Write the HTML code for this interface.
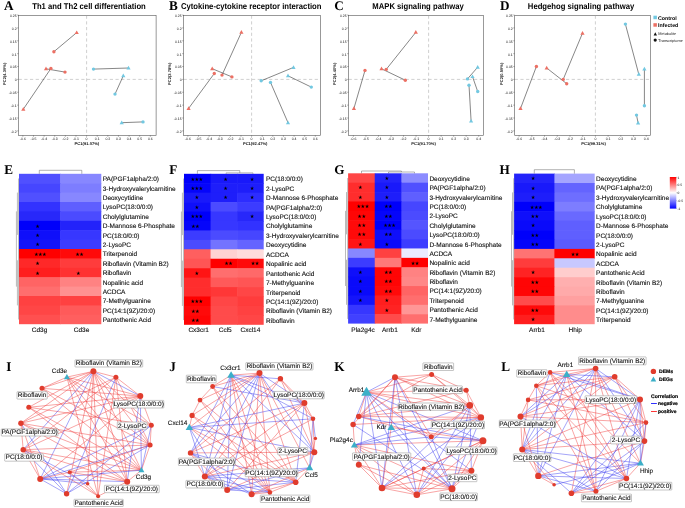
<!DOCTYPE html>
<html><head><meta charset="utf-8"><title>Figure</title>
<style>html,body{margin:0;padding:0;background:#fff;}svg{display:block;}</style></head>
<body><svg width="685" height="508" viewBox="0 0 685 508" text-rendering="geometricPrecision">
<rect width="685" height="508" fill="#fff"/>
<text x="3.90" y="9.60" font-size="13.2" font-family="Liberation Serif, Times New Roman, serif" text-anchor="start" font-weight="bold" fill="#000" >A</text>
<text transform="translate(89,8.75) scale(1,1.1)" font-size="7.7" font-family="Liberation Sans, Arial, sans-serif" font-weight="bold" text-anchor="middle" fill="#000">Th1 and Th2 cell differentiation</text>
<rect x="18.6" y="15.6" width="137.50" height="119.70" fill="none" stroke="#555" stroke-width="0.6"/>
<line x1="18.6" y1="79.4" x2="156.1" y2="79.4" stroke="#a0a0a0" stroke-width="0.5" stroke-dasharray="3.2,2.5"/>
<line x1="86.6" y1="15.6" x2="86.6" y2="135.3" stroke="#a0a0a0" stroke-width="0.5" stroke-dasharray="3.2,2.5"/>
<line x1="17.1" y1="15.05" x2="18.6" y2="15.05" stroke="#444" stroke-width="0.4"/>
<text x="16.70" y="16.95" font-size="3.5" font-family="Liberation Sans, Arial, sans-serif" text-anchor="end" fill="#111" >0.25</text>
<line x1="17.1" y1="27.92" x2="18.6" y2="27.92" stroke="#444" stroke-width="0.4"/>
<text x="16.70" y="29.82" font-size="3.5" font-family="Liberation Sans, Arial, sans-serif" text-anchor="end" fill="#111" >0.2</text>
<line x1="17.1" y1="40.79" x2="18.6" y2="40.79" stroke="#444" stroke-width="0.4"/>
<text x="16.70" y="42.69" font-size="3.5" font-family="Liberation Sans, Arial, sans-serif" text-anchor="end" fill="#111" >0.15</text>
<line x1="17.1" y1="53.66" x2="18.6" y2="53.66" stroke="#444" stroke-width="0.4"/>
<text x="16.70" y="55.56" font-size="3.5" font-family="Liberation Sans, Arial, sans-serif" text-anchor="end" fill="#111" >0.1</text>
<line x1="17.1" y1="66.53" x2="18.6" y2="66.53" stroke="#444" stroke-width="0.4"/>
<text x="16.70" y="68.43" font-size="3.5" font-family="Liberation Sans, Arial, sans-serif" text-anchor="end" fill="#111" >0.05</text>
<line x1="17.1" y1="79.40" x2="18.6" y2="79.40" stroke="#444" stroke-width="0.4"/>
<text x="16.70" y="81.30" font-size="3.5" font-family="Liberation Sans, Arial, sans-serif" text-anchor="end" fill="#111" >0</text>
<line x1="17.1" y1="92.27" x2="18.6" y2="92.27" stroke="#444" stroke-width="0.4"/>
<text x="16.70" y="94.17" font-size="3.5" font-family="Liberation Sans, Arial, sans-serif" text-anchor="end" fill="#111" >-0.05</text>
<line x1="17.1" y1="105.14" x2="18.6" y2="105.14" stroke="#444" stroke-width="0.4"/>
<text x="16.70" y="107.04" font-size="3.5" font-family="Liberation Sans, Arial, sans-serif" text-anchor="end" fill="#111" >-0.1</text>
<line x1="17.1" y1="118.01" x2="18.6" y2="118.01" stroke="#444" stroke-width="0.4"/>
<text x="16.70" y="119.91" font-size="3.5" font-family="Liberation Sans, Arial, sans-serif" text-anchor="end" fill="#111" >-0.15</text>
<line x1="17.1" y1="130.88" x2="18.6" y2="130.88" stroke="#444" stroke-width="0.4"/>
<text x="16.70" y="132.78" font-size="3.5" font-family="Liberation Sans, Arial, sans-serif" text-anchor="end" fill="#111" >-0.2</text>
<line x1="22.88" y1="135.3" x2="22.88" y2="136.8" stroke="#444" stroke-width="0.4"/>
<text x="22.88" y="140.20" font-size="3.5" font-family="Liberation Sans, Arial, sans-serif" text-anchor="middle" fill="#111" >-0.6</text>
<line x1="33.50" y1="135.3" x2="33.50" y2="136.8" stroke="#444" stroke-width="0.4"/>
<text x="33.50" y="140.20" font-size="3.5" font-family="Liberation Sans, Arial, sans-serif" text-anchor="middle" fill="#111" >-0.5</text>
<line x1="44.12" y1="135.3" x2="44.12" y2="136.8" stroke="#444" stroke-width="0.4"/>
<text x="44.12" y="140.20" font-size="3.5" font-family="Liberation Sans, Arial, sans-serif" text-anchor="middle" fill="#111" >-0.4</text>
<line x1="54.74" y1="135.3" x2="54.74" y2="136.8" stroke="#444" stroke-width="0.4"/>
<text x="54.74" y="140.20" font-size="3.5" font-family="Liberation Sans, Arial, sans-serif" text-anchor="middle" fill="#111" >-0.3</text>
<line x1="65.36" y1="135.3" x2="65.36" y2="136.8" stroke="#444" stroke-width="0.4"/>
<text x="65.36" y="140.20" font-size="3.5" font-family="Liberation Sans, Arial, sans-serif" text-anchor="middle" fill="#111" >-0.2</text>
<line x1="75.98" y1="135.3" x2="75.98" y2="136.8" stroke="#444" stroke-width="0.4"/>
<text x="75.98" y="140.20" font-size="3.5" font-family="Liberation Sans, Arial, sans-serif" text-anchor="middle" fill="#111" >-0.1</text>
<line x1="86.60" y1="135.3" x2="86.60" y2="136.8" stroke="#444" stroke-width="0.4"/>
<text x="86.60" y="140.20" font-size="3.5" font-family="Liberation Sans, Arial, sans-serif" text-anchor="middle" fill="#111" >0</text>
<line x1="97.22" y1="135.3" x2="97.22" y2="136.8" stroke="#444" stroke-width="0.4"/>
<text x="97.22" y="140.20" font-size="3.5" font-family="Liberation Sans, Arial, sans-serif" text-anchor="middle" fill="#111" >0.1</text>
<line x1="107.84" y1="135.3" x2="107.84" y2="136.8" stroke="#444" stroke-width="0.4"/>
<text x="107.84" y="140.20" font-size="3.5" font-family="Liberation Sans, Arial, sans-serif" text-anchor="middle" fill="#111" >0.2</text>
<line x1="118.46" y1="135.3" x2="118.46" y2="136.8" stroke="#444" stroke-width="0.4"/>
<text x="118.46" y="140.20" font-size="3.5" font-family="Liberation Sans, Arial, sans-serif" text-anchor="middle" fill="#111" >0.3</text>
<line x1="129.08" y1="135.3" x2="129.08" y2="136.8" stroke="#444" stroke-width="0.4"/>
<text x="129.08" y="140.20" font-size="3.5" font-family="Liberation Sans, Arial, sans-serif" text-anchor="middle" fill="#111" >0.4</text>
<line x1="139.70" y1="135.3" x2="139.70" y2="136.8" stroke="#444" stroke-width="0.4"/>
<text x="139.70" y="140.20" font-size="3.5" font-family="Liberation Sans, Arial, sans-serif" text-anchor="middle" fill="#111" >0.5</text>
<line x1="150.32" y1="135.3" x2="150.32" y2="136.8" stroke="#444" stroke-width="0.4"/>
<text x="150.32" y="140.20" font-size="3.5" font-family="Liberation Sans, Arial, sans-serif" text-anchor="middle" fill="#111" >0.6</text>
<text x="86.90" y="144.80" font-size="4.1" font-family="Liberation Sans, Arial, sans-serif" text-anchor="middle" font-weight="bold" fill="#111" >PC1(91.07%)</text>
<text transform="translate(6.0,73.9) rotate(-90)" font-size="4.1" font-family="Liberation Sans, Arial, sans-serif" font-weight="bold" text-anchor="middle" fill="#222">PC2(4.39%)</text>
<line x1="76.7" y1="32.6" x2="53.9" y2="51.7" stroke="#222" stroke-width="0.55"/>
<line x1="46" y1="68.8" x2="65" y2="72.1" stroke="#222" stroke-width="0.55"/>
<line x1="23.3" y1="109.2" x2="50.9" y2="68.5" stroke="#222" stroke-width="0.55"/>
<line x1="93.5" y1="69.1" x2="128.5" y2="68.0" stroke="#222" stroke-width="0.55"/>
<line x1="123.3" y1="75.8" x2="115" y2="94.1" stroke="#222" stroke-width="0.55"/>
<line x1="121.7" y1="122.7" x2="143" y2="121.9" stroke="#222" stroke-width="0.55"/>
<polygon points="76.70,30.38 74.60,34.08 78.80,34.08" fill="#EC7064"/>
<circle cx="53.90" cy="51.70" r="1.7" fill="#EC7064"/>
<polygon points="46.00,66.58 43.90,70.28 48.10,70.28" fill="#EC7064"/>
<circle cx="65.00" cy="72.10" r="1.7" fill="#EC7064"/>
<polygon points="23.30,106.98 21.20,110.68 25.40,110.68" fill="#EC7064"/>
<circle cx="50.90" cy="68.50" r="1.7" fill="#EC7064"/>
<circle cx="93.50" cy="69.10" r="1.7" fill="#72C8E1"/>
<polygon points="128.50,65.78 126.40,69.48 130.60,69.48" fill="#72C8E1"/>
<polygon points="123.30,73.58 121.20,77.28 125.40,77.28" fill="#72C8E1"/>
<circle cx="115.00" cy="94.10" r="1.7" fill="#72C8E1"/>
<polygon points="121.70,120.48 119.60,124.18 123.80,124.18" fill="#72C8E1"/>
<circle cx="143.00" cy="121.90" r="1.7" fill="#72C8E1"/>
<text x="169.00" y="9.60" font-size="13.2" font-family="Liberation Serif, Times New Roman, serif" text-anchor="start" font-weight="bold" fill="#000" >B</text>
<text transform="translate(251.2,8.75) scale(1,1.1)" font-size="7.7" font-family="Liberation Sans, Arial, sans-serif" font-weight="bold" text-anchor="middle" fill="#000">Cytokine-cytokine receptor interaction</text>
<rect x="183.6" y="15.6" width="137.00" height="119.70" fill="none" stroke="#555" stroke-width="0.6"/>
<line x1="183.6" y1="79.4" x2="320.6" y2="79.4" stroke="#a0a0a0" stroke-width="0.5" stroke-dasharray="3.2,2.5"/>
<line x1="251.6" y1="15.6" x2="251.6" y2="135.3" stroke="#a0a0a0" stroke-width="0.5" stroke-dasharray="3.2,2.5"/>
<line x1="182.1" y1="15.05" x2="183.6" y2="15.05" stroke="#444" stroke-width="0.4"/>
<text x="181.70" y="16.95" font-size="3.5" font-family="Liberation Sans, Arial, sans-serif" text-anchor="end" fill="#111" >0.25</text>
<line x1="182.1" y1="27.92" x2="183.6" y2="27.92" stroke="#444" stroke-width="0.4"/>
<text x="181.70" y="29.82" font-size="3.5" font-family="Liberation Sans, Arial, sans-serif" text-anchor="end" fill="#111" >0.2</text>
<line x1="182.1" y1="40.79" x2="183.6" y2="40.79" stroke="#444" stroke-width="0.4"/>
<text x="181.70" y="42.69" font-size="3.5" font-family="Liberation Sans, Arial, sans-serif" text-anchor="end" fill="#111" >0.15</text>
<line x1="182.1" y1="53.66" x2="183.6" y2="53.66" stroke="#444" stroke-width="0.4"/>
<text x="181.70" y="55.56" font-size="3.5" font-family="Liberation Sans, Arial, sans-serif" text-anchor="end" fill="#111" >0.1</text>
<line x1="182.1" y1="66.53" x2="183.6" y2="66.53" stroke="#444" stroke-width="0.4"/>
<text x="181.70" y="68.43" font-size="3.5" font-family="Liberation Sans, Arial, sans-serif" text-anchor="end" fill="#111" >0.05</text>
<line x1="182.1" y1="79.40" x2="183.6" y2="79.40" stroke="#444" stroke-width="0.4"/>
<text x="181.70" y="81.30" font-size="3.5" font-family="Liberation Sans, Arial, sans-serif" text-anchor="end" fill="#111" >0</text>
<line x1="182.1" y1="92.27" x2="183.6" y2="92.27" stroke="#444" stroke-width="0.4"/>
<text x="181.70" y="94.17" font-size="3.5" font-family="Liberation Sans, Arial, sans-serif" text-anchor="end" fill="#111" >-0.05</text>
<line x1="182.1" y1="105.14" x2="183.6" y2="105.14" stroke="#444" stroke-width="0.4"/>
<text x="181.70" y="107.04" font-size="3.5" font-family="Liberation Sans, Arial, sans-serif" text-anchor="end" fill="#111" >-0.1</text>
<line x1="182.1" y1="118.01" x2="183.6" y2="118.01" stroke="#444" stroke-width="0.4"/>
<text x="181.70" y="119.91" font-size="3.5" font-family="Liberation Sans, Arial, sans-serif" text-anchor="end" fill="#111" >-0.15</text>
<line x1="182.1" y1="130.88" x2="183.6" y2="130.88" stroke="#444" stroke-width="0.4"/>
<text x="181.70" y="132.78" font-size="3.5" font-family="Liberation Sans, Arial, sans-serif" text-anchor="end" fill="#111" >-0.2</text>
<line x1="187.88" y1="135.3" x2="187.88" y2="136.8" stroke="#444" stroke-width="0.4"/>
<text x="187.88" y="140.20" font-size="3.5" font-family="Liberation Sans, Arial, sans-serif" text-anchor="middle" fill="#111" >-0.6</text>
<line x1="198.50" y1="135.3" x2="198.50" y2="136.8" stroke="#444" stroke-width="0.4"/>
<text x="198.50" y="140.20" font-size="3.5" font-family="Liberation Sans, Arial, sans-serif" text-anchor="middle" fill="#111" >-0.5</text>
<line x1="209.12" y1="135.3" x2="209.12" y2="136.8" stroke="#444" stroke-width="0.4"/>
<text x="209.12" y="140.20" font-size="3.5" font-family="Liberation Sans, Arial, sans-serif" text-anchor="middle" fill="#111" >-0.4</text>
<line x1="219.74" y1="135.3" x2="219.74" y2="136.8" stroke="#444" stroke-width="0.4"/>
<text x="219.74" y="140.20" font-size="3.5" font-family="Liberation Sans, Arial, sans-serif" text-anchor="middle" fill="#111" >-0.3</text>
<line x1="230.36" y1="135.3" x2="230.36" y2="136.8" stroke="#444" stroke-width="0.4"/>
<text x="230.36" y="140.20" font-size="3.5" font-family="Liberation Sans, Arial, sans-serif" text-anchor="middle" fill="#111" >-0.2</text>
<line x1="240.98" y1="135.3" x2="240.98" y2="136.8" stroke="#444" stroke-width="0.4"/>
<text x="240.98" y="140.20" font-size="3.5" font-family="Liberation Sans, Arial, sans-serif" text-anchor="middle" fill="#111" >-0.1</text>
<line x1="251.60" y1="135.3" x2="251.60" y2="136.8" stroke="#444" stroke-width="0.4"/>
<text x="251.60" y="140.20" font-size="3.5" font-family="Liberation Sans, Arial, sans-serif" text-anchor="middle" fill="#111" >0</text>
<line x1="262.22" y1="135.3" x2="262.22" y2="136.8" stroke="#444" stroke-width="0.4"/>
<text x="262.22" y="140.20" font-size="3.5" font-family="Liberation Sans, Arial, sans-serif" text-anchor="middle" fill="#111" >0.1</text>
<line x1="272.84" y1="135.3" x2="272.84" y2="136.8" stroke="#444" stroke-width="0.4"/>
<text x="272.84" y="140.20" font-size="3.5" font-family="Liberation Sans, Arial, sans-serif" text-anchor="middle" fill="#111" >0.2</text>
<line x1="283.46" y1="135.3" x2="283.46" y2="136.8" stroke="#444" stroke-width="0.4"/>
<text x="283.46" y="140.20" font-size="3.5" font-family="Liberation Sans, Arial, sans-serif" text-anchor="middle" fill="#111" >0.3</text>
<line x1="294.08" y1="135.3" x2="294.08" y2="136.8" stroke="#444" stroke-width="0.4"/>
<text x="294.08" y="140.20" font-size="3.5" font-family="Liberation Sans, Arial, sans-serif" text-anchor="middle" fill="#111" >0.4</text>
<line x1="304.70" y1="135.3" x2="304.70" y2="136.8" stroke="#444" stroke-width="0.4"/>
<text x="304.70" y="140.20" font-size="3.5" font-family="Liberation Sans, Arial, sans-serif" text-anchor="middle" fill="#111" >0.5</text>
<line x1="315.32" y1="135.3" x2="315.32" y2="136.8" stroke="#444" stroke-width="0.4"/>
<text x="315.32" y="140.20" font-size="3.5" font-family="Liberation Sans, Arial, sans-serif" text-anchor="middle" fill="#111" >0.6</text>
<text x="255.20" y="144.80" font-size="4.1" font-family="Liberation Sans, Arial, sans-serif" text-anchor="middle" font-weight="bold" fill="#111" >PC1(92.47%)</text>
<text transform="translate(171.0,73.9) rotate(-90)" font-size="4.1" font-family="Liberation Sans, Arial, sans-serif" font-weight="bold" text-anchor="middle" fill="#222">PC2(3.78%)</text>
<line x1="241.4" y1="32.3" x2="222" y2="75.1" stroke="#222" stroke-width="0.55"/>
<line x1="212.2" y1="68.7" x2="231.9" y2="76.9" stroke="#222" stroke-width="0.55"/>
<line x1="188.6" y1="108.4" x2="214.3" y2="73.5" stroke="#222" stroke-width="0.55"/>
<line x1="293.5" y1="67.4" x2="261.2" y2="80.8" stroke="#222" stroke-width="0.55"/>
<line x1="288" y1="75.8" x2="311.3" y2="87.1" stroke="#222" stroke-width="0.55"/>
<line x1="270.5" y1="82.4" x2="288" y2="122.7" stroke="#222" stroke-width="0.55"/>
<polygon points="241.40,30.08 239.30,33.78 243.50,33.78" fill="#EC7064"/>
<circle cx="222.00" cy="75.10" r="1.7" fill="#EC7064"/>
<polygon points="212.20,66.48 210.10,70.18 214.30,70.18" fill="#EC7064"/>
<circle cx="231.90" cy="76.90" r="1.7" fill="#EC7064"/>
<polygon points="188.60,106.18 186.50,109.88 190.70,109.88" fill="#EC7064"/>
<circle cx="214.30" cy="73.50" r="1.7" fill="#EC7064"/>
<polygon points="293.50,65.18 291.40,68.88 295.60,68.88" fill="#72C8E1"/>
<circle cx="261.20" cy="80.80" r="1.7" fill="#72C8E1"/>
<polygon points="288.00,73.58 285.90,77.28 290.10,77.28" fill="#72C8E1"/>
<circle cx="311.30" cy="87.10" r="1.7" fill="#72C8E1"/>
<circle cx="270.50" cy="82.40" r="1.7" fill="#72C8E1"/>
<polygon points="288.00,120.48 285.90,124.18 290.10,124.18" fill="#72C8E1"/>
<text x="334.20" y="9.60" font-size="13.2" font-family="Liberation Serif, Times New Roman, serif" text-anchor="start" font-weight="bold" fill="#000" >C</text>
<text transform="translate(418,8.75) scale(1,1.1)" font-size="7.7" font-family="Liberation Sans, Arial, sans-serif" font-weight="bold" text-anchor="middle" fill="#000">MAPK signaling pathway</text>
<rect x="348.6" y="15.6" width="134.90" height="119.70" fill="none" stroke="#555" stroke-width="0.6"/>
<line x1="348.6" y1="79.4" x2="483.5" y2="79.4" stroke="#a0a0a0" stroke-width="0.5" stroke-dasharray="3.2,2.5"/>
<line x1="428.6" y1="15.6" x2="428.6" y2="135.3" stroke="#a0a0a0" stroke-width="0.5" stroke-dasharray="3.2,2.5"/>
<line x1="347.1" y1="15.05" x2="348.6" y2="15.05" stroke="#444" stroke-width="0.4"/>
<text x="346.70" y="16.95" font-size="3.5" font-family="Liberation Sans, Arial, sans-serif" text-anchor="end" fill="#111" >0.25</text>
<line x1="347.1" y1="27.92" x2="348.6" y2="27.92" stroke="#444" stroke-width="0.4"/>
<text x="346.70" y="29.82" font-size="3.5" font-family="Liberation Sans, Arial, sans-serif" text-anchor="end" fill="#111" >0.2</text>
<line x1="347.1" y1="40.79" x2="348.6" y2="40.79" stroke="#444" stroke-width="0.4"/>
<text x="346.70" y="42.69" font-size="3.5" font-family="Liberation Sans, Arial, sans-serif" text-anchor="end" fill="#111" >0.15</text>
<line x1="347.1" y1="53.66" x2="348.6" y2="53.66" stroke="#444" stroke-width="0.4"/>
<text x="346.70" y="55.56" font-size="3.5" font-family="Liberation Sans, Arial, sans-serif" text-anchor="end" fill="#111" >0.1</text>
<line x1="347.1" y1="66.53" x2="348.6" y2="66.53" stroke="#444" stroke-width="0.4"/>
<text x="346.70" y="68.43" font-size="3.5" font-family="Liberation Sans, Arial, sans-serif" text-anchor="end" fill="#111" >0.05</text>
<line x1="347.1" y1="79.40" x2="348.6" y2="79.40" stroke="#444" stroke-width="0.4"/>
<text x="346.70" y="81.30" font-size="3.5" font-family="Liberation Sans, Arial, sans-serif" text-anchor="end" fill="#111" >0</text>
<line x1="347.1" y1="92.27" x2="348.6" y2="92.27" stroke="#444" stroke-width="0.4"/>
<text x="346.70" y="94.17" font-size="3.5" font-family="Liberation Sans, Arial, sans-serif" text-anchor="end" fill="#111" >-0.05</text>
<line x1="347.1" y1="105.14" x2="348.6" y2="105.14" stroke="#444" stroke-width="0.4"/>
<text x="346.70" y="107.04" font-size="3.5" font-family="Liberation Sans, Arial, sans-serif" text-anchor="end" fill="#111" >-0.1</text>
<line x1="347.1" y1="118.01" x2="348.6" y2="118.01" stroke="#444" stroke-width="0.4"/>
<text x="346.70" y="119.91" font-size="3.5" font-family="Liberation Sans, Arial, sans-serif" text-anchor="end" fill="#111" >-0.15</text>
<line x1="347.1" y1="130.88" x2="348.6" y2="130.88" stroke="#444" stroke-width="0.4"/>
<text x="346.70" y="132.78" font-size="3.5" font-family="Liberation Sans, Arial, sans-serif" text-anchor="end" fill="#111" >-0.2</text>
<line x1="353.42" y1="135.3" x2="353.42" y2="136.8" stroke="#444" stroke-width="0.4"/>
<text x="353.42" y="140.20" font-size="3.5" font-family="Liberation Sans, Arial, sans-serif" text-anchor="middle" fill="#111" >-0.6</text>
<line x1="365.95" y1="135.3" x2="365.95" y2="136.8" stroke="#444" stroke-width="0.4"/>
<text x="365.95" y="140.20" font-size="3.5" font-family="Liberation Sans, Arial, sans-serif" text-anchor="middle" fill="#111" >-0.5</text>
<line x1="378.48" y1="135.3" x2="378.48" y2="136.8" stroke="#444" stroke-width="0.4"/>
<text x="378.48" y="140.20" font-size="3.5" font-family="Liberation Sans, Arial, sans-serif" text-anchor="middle" fill="#111" >-0.4</text>
<line x1="391.01" y1="135.3" x2="391.01" y2="136.8" stroke="#444" stroke-width="0.4"/>
<text x="391.01" y="140.20" font-size="3.5" font-family="Liberation Sans, Arial, sans-serif" text-anchor="middle" fill="#111" >-0.3</text>
<line x1="403.54" y1="135.3" x2="403.54" y2="136.8" stroke="#444" stroke-width="0.4"/>
<text x="403.54" y="140.20" font-size="3.5" font-family="Liberation Sans, Arial, sans-serif" text-anchor="middle" fill="#111" >-0.2</text>
<line x1="416.07" y1="135.3" x2="416.07" y2="136.8" stroke="#444" stroke-width="0.4"/>
<text x="416.07" y="140.20" font-size="3.5" font-family="Liberation Sans, Arial, sans-serif" text-anchor="middle" fill="#111" >-0.1</text>
<line x1="428.60" y1="135.3" x2="428.60" y2="136.8" stroke="#444" stroke-width="0.4"/>
<text x="428.60" y="140.20" font-size="3.5" font-family="Liberation Sans, Arial, sans-serif" text-anchor="middle" fill="#111" >0</text>
<line x1="441.13" y1="135.3" x2="441.13" y2="136.8" stroke="#444" stroke-width="0.4"/>
<text x="441.13" y="140.20" font-size="3.5" font-family="Liberation Sans, Arial, sans-serif" text-anchor="middle" fill="#111" >0.1</text>
<line x1="453.66" y1="135.3" x2="453.66" y2="136.8" stroke="#444" stroke-width="0.4"/>
<text x="453.66" y="140.20" font-size="3.5" font-family="Liberation Sans, Arial, sans-serif" text-anchor="middle" fill="#111" >0.2</text>
<line x1="466.19" y1="135.3" x2="466.19" y2="136.8" stroke="#444" stroke-width="0.4"/>
<text x="466.19" y="140.20" font-size="3.5" font-family="Liberation Sans, Arial, sans-serif" text-anchor="middle" fill="#111" >0.3</text>
<line x1="478.72" y1="135.3" x2="478.72" y2="136.8" stroke="#444" stroke-width="0.4"/>
<text x="478.72" y="140.20" font-size="3.5" font-family="Liberation Sans, Arial, sans-serif" text-anchor="middle" fill="#111" >0.4</text>
<text x="423.60" y="144.80" font-size="4.1" font-family="Liberation Sans, Arial, sans-serif" text-anchor="middle" font-weight="bold" fill="#111" >PC1(91.70%)</text>
<text transform="translate(336.0,73.9) rotate(-90)" font-size="4.1" font-family="Liberation Sans, Arial, sans-serif" font-weight="bold" text-anchor="middle" fill="#222">PC2(4.40%)</text>
<line x1="415.8" y1="32.3" x2="386.2" y2="69.4" stroke="#222" stroke-width="0.55"/>
<line x1="381.5" y1="68.8" x2="405.3" y2="80.2" stroke="#222" stroke-width="0.55"/>
<line x1="365" y1="70.4" x2="353.9" y2="108.5" stroke="#222" stroke-width="0.55"/>
<line x1="477.7" y1="67.2" x2="467.5" y2="78.9" stroke="#222" stroke-width="0.55"/>
<line x1="472.5" y1="76.6" x2="477.7" y2="91.5" stroke="#222" stroke-width="0.55"/>
<line x1="469" y1="85.2" x2="471.1" y2="121.1" stroke="#222" stroke-width="0.55"/>
<polygon points="415.80,30.08 413.70,33.78 417.90,33.78" fill="#EC7064"/>
<circle cx="386.20" cy="69.40" r="1.7" fill="#EC7064"/>
<polygon points="381.50,66.58 379.40,70.28 383.60,70.28" fill="#EC7064"/>
<circle cx="405.30" cy="80.20" r="1.7" fill="#EC7064"/>
<circle cx="365.00" cy="70.40" r="1.7" fill="#EC7064"/>
<polygon points="353.90,106.28 351.80,109.98 356.00,109.98" fill="#EC7064"/>
<polygon points="477.70,64.98 475.60,68.68 479.80,68.68" fill="#72C8E1"/>
<circle cx="467.50" cy="78.90" r="1.7" fill="#72C8E1"/>
<polygon points="472.50,74.38 470.40,78.08 474.60,78.08" fill="#72C8E1"/>
<circle cx="477.70" cy="91.50" r="1.7" fill="#72C8E1"/>
<circle cx="469.00" cy="85.20" r="1.7" fill="#72C8E1"/>
<polygon points="471.10,118.88 469.00,122.58 473.20,122.58" fill="#72C8E1"/>
<text x="500.00" y="9.60" font-size="13.2" font-family="Liberation Serif, Times New Roman, serif" text-anchor="start" font-weight="bold" fill="#000" >D</text>
<text transform="translate(581,8.75) scale(1,1.1)" font-size="7.7" font-family="Liberation Sans, Arial, sans-serif" font-weight="bold" text-anchor="middle" fill="#000">Hedgehog signaling pathway</text>
<rect x="514.7" y="15.6" width="135.80" height="119.70" fill="none" stroke="#555" stroke-width="0.6"/>
<line x1="514.7" y1="79.4" x2="650.5" y2="79.4" stroke="#a0a0a0" stroke-width="0.5" stroke-dasharray="3.2,2.5"/>
<line x1="595.4" y1="15.6" x2="595.4" y2="135.3" stroke="#a0a0a0" stroke-width="0.5" stroke-dasharray="3.2,2.5"/>
<line x1="513.2" y1="15.05" x2="514.7" y2="15.05" stroke="#444" stroke-width="0.4"/>
<text x="512.80" y="16.95" font-size="3.5" font-family="Liberation Sans, Arial, sans-serif" text-anchor="end" fill="#111" >0.25</text>
<line x1="513.2" y1="27.92" x2="514.7" y2="27.92" stroke="#444" stroke-width="0.4"/>
<text x="512.80" y="29.82" font-size="3.5" font-family="Liberation Sans, Arial, sans-serif" text-anchor="end" fill="#111" >0.2</text>
<line x1="513.2" y1="40.79" x2="514.7" y2="40.79" stroke="#444" stroke-width="0.4"/>
<text x="512.80" y="42.69" font-size="3.5" font-family="Liberation Sans, Arial, sans-serif" text-anchor="end" fill="#111" >0.15</text>
<line x1="513.2" y1="53.66" x2="514.7" y2="53.66" stroke="#444" stroke-width="0.4"/>
<text x="512.80" y="55.56" font-size="3.5" font-family="Liberation Sans, Arial, sans-serif" text-anchor="end" fill="#111" >0.1</text>
<line x1="513.2" y1="66.53" x2="514.7" y2="66.53" stroke="#444" stroke-width="0.4"/>
<text x="512.80" y="68.43" font-size="3.5" font-family="Liberation Sans, Arial, sans-serif" text-anchor="end" fill="#111" >0.05</text>
<line x1="513.2" y1="79.40" x2="514.7" y2="79.40" stroke="#444" stroke-width="0.4"/>
<text x="512.80" y="81.30" font-size="3.5" font-family="Liberation Sans, Arial, sans-serif" text-anchor="end" fill="#111" >0</text>
<line x1="513.2" y1="92.27" x2="514.7" y2="92.27" stroke="#444" stroke-width="0.4"/>
<text x="512.80" y="94.17" font-size="3.5" font-family="Liberation Sans, Arial, sans-serif" text-anchor="end" fill="#111" >-0.05</text>
<line x1="513.2" y1="105.14" x2="514.7" y2="105.14" stroke="#444" stroke-width="0.4"/>
<text x="512.80" y="107.04" font-size="3.5" font-family="Liberation Sans, Arial, sans-serif" text-anchor="end" fill="#111" >-0.1</text>
<line x1="513.2" y1="118.01" x2="514.7" y2="118.01" stroke="#444" stroke-width="0.4"/>
<text x="512.80" y="119.91" font-size="3.5" font-family="Liberation Sans, Arial, sans-serif" text-anchor="end" fill="#111" >-0.15</text>
<line x1="513.2" y1="130.88" x2="514.7" y2="130.88" stroke="#444" stroke-width="0.4"/>
<text x="512.80" y="132.78" font-size="3.5" font-family="Liberation Sans, Arial, sans-serif" text-anchor="end" fill="#111" >-0.2</text>
<line x1="519.08" y1="135.3" x2="519.08" y2="136.8" stroke="#444" stroke-width="0.4"/>
<text x="519.08" y="140.20" font-size="3.5" font-family="Liberation Sans, Arial, sans-serif" text-anchor="middle" fill="#111" >-0.6</text>
<line x1="531.80" y1="135.3" x2="531.80" y2="136.8" stroke="#444" stroke-width="0.4"/>
<text x="531.80" y="140.20" font-size="3.5" font-family="Liberation Sans, Arial, sans-serif" text-anchor="middle" fill="#111" >-0.5</text>
<line x1="544.52" y1="135.3" x2="544.52" y2="136.8" stroke="#444" stroke-width="0.4"/>
<text x="544.52" y="140.20" font-size="3.5" font-family="Liberation Sans, Arial, sans-serif" text-anchor="middle" fill="#111" >-0.4</text>
<line x1="557.24" y1="135.3" x2="557.24" y2="136.8" stroke="#444" stroke-width="0.4"/>
<text x="557.24" y="140.20" font-size="3.5" font-family="Liberation Sans, Arial, sans-serif" text-anchor="middle" fill="#111" >-0.3</text>
<line x1="569.96" y1="135.3" x2="569.96" y2="136.8" stroke="#444" stroke-width="0.4"/>
<text x="569.96" y="140.20" font-size="3.5" font-family="Liberation Sans, Arial, sans-serif" text-anchor="middle" fill="#111" >-0.2</text>
<line x1="582.68" y1="135.3" x2="582.68" y2="136.8" stroke="#444" stroke-width="0.4"/>
<text x="582.68" y="140.20" font-size="3.5" font-family="Liberation Sans, Arial, sans-serif" text-anchor="middle" fill="#111" >-0.1</text>
<line x1="595.40" y1="135.3" x2="595.40" y2="136.8" stroke="#444" stroke-width="0.4"/>
<text x="595.40" y="140.20" font-size="3.5" font-family="Liberation Sans, Arial, sans-serif" text-anchor="middle" fill="#111" >0</text>
<line x1="608.12" y1="135.3" x2="608.12" y2="136.8" stroke="#444" stroke-width="0.4"/>
<text x="608.12" y="140.20" font-size="3.5" font-family="Liberation Sans, Arial, sans-serif" text-anchor="middle" fill="#111" >0.1</text>
<line x1="620.84" y1="135.3" x2="620.84" y2="136.8" stroke="#444" stroke-width="0.4"/>
<text x="620.84" y="140.20" font-size="3.5" font-family="Liberation Sans, Arial, sans-serif" text-anchor="middle" fill="#111" >0.2</text>
<line x1="633.56" y1="135.3" x2="633.56" y2="136.8" stroke="#444" stroke-width="0.4"/>
<text x="633.56" y="140.20" font-size="3.5" font-family="Liberation Sans, Arial, sans-serif" text-anchor="middle" fill="#111" >0.3</text>
<line x1="646.28" y1="135.3" x2="646.28" y2="136.8" stroke="#444" stroke-width="0.4"/>
<text x="646.28" y="140.20" font-size="3.5" font-family="Liberation Sans, Arial, sans-serif" text-anchor="middle" fill="#111" >0.4</text>
<text x="593.50" y="144.80" font-size="4.1" font-family="Liberation Sans, Arial, sans-serif" text-anchor="middle" font-weight="bold" fill="#111" >PC1(99.31%)</text>
<text transform="translate(502.59999999999997,73.9) rotate(-90)" font-size="4.1" font-family="Liberation Sans, Arial, sans-serif" font-weight="bold" text-anchor="middle" fill="#222">PC2(0.59%)</text>
<line x1="536.4" y1="66.5" x2="520.5" y2="108.5" stroke="#222" stroke-width="0.55"/>
<line x1="546.7" y1="68" x2="566.7" y2="83.7" stroke="#222" stroke-width="0.55"/>
<line x1="563.2" y1="79.4" x2="582.5" y2="33.2" stroke="#222" stroke-width="0.55"/>
<line x1="625.4" y1="24.1" x2="638.8" y2="74.3" stroke="#222" stroke-width="0.55"/>
<line x1="644.4" y1="69" x2="644.4" y2="105.8" stroke="#222" stroke-width="0.55"/>
<line x1="636.5" y1="115.1" x2="638.1" y2="122.9" stroke="#222" stroke-width="0.55"/>
<circle cx="536.40" cy="66.50" r="1.7" fill="#EC7064"/>
<polygon points="520.50,106.28 518.40,109.98 522.60,109.98" fill="#EC7064"/>
<polygon points="546.70,65.78 544.60,69.48 548.80,69.48" fill="#EC7064"/>
<circle cx="566.70" cy="83.70" r="1.7" fill="#EC7064"/>
<circle cx="563.20" cy="79.40" r="1.7" fill="#EC7064"/>
<polygon points="582.50,30.98 580.40,34.68 584.60,34.68" fill="#EC7064"/>
<circle cx="625.40" cy="24.10" r="1.7" fill="#72C8E1"/>
<polygon points="638.80,72.08 636.70,75.78 640.90,75.78" fill="#72C8E1"/>
<polygon points="644.40,66.78 642.30,70.48 646.50,70.48" fill="#72C8E1"/>
<circle cx="644.40" cy="105.80" r="1.7" fill="#72C8E1"/>
<circle cx="636.50" cy="115.10" r="1.7" fill="#72C8E1"/>
<polygon points="638.10,120.68 636.00,124.38 640.20,124.38" fill="#72C8E1"/>
<rect x="653.4" y="15.7" width="3.5" height="3.5" fill="#72C8E1"/>
<text x="658.00" y="19.60" font-size="5.3" font-family="Liberation Sans, Arial, sans-serif" text-anchor="start" font-weight="bold" fill="#000" >Control</text>
<rect x="653.4" y="23.2" width="3.5" height="3.5" fill="#EC7064"/>
<text x="658.00" y="26.90" font-size="5.3" font-family="Liberation Sans, Arial, sans-serif" text-anchor="start" font-weight="bold" fill="#000" >Infected</text>
<polygon points="655.30,32.28 653.60,35.48 657.00,35.48" fill="#111"/>
<text x="658.20" y="35.40" font-size="3.9" font-family="Liberation Sans, Arial, sans-serif" text-anchor="start" fill="#222" >Metabolite</text>
<circle cx="655.20" cy="40.10" r="1.6" fill="#111"/>
<text x="658.20" y="41.50" font-size="3.9" font-family="Liberation Sans, Arial, sans-serif" text-anchor="start" fill="#222" >Transcriptome</text>
<text x="4.30" y="174.30" font-size="13.2" font-family="Liberation Serif, Times New Roman, serif" text-anchor="start" font-weight="bold" fill="#000" >E</text>
<rect x="19.00" y="173.80" width="41.75" height="10.00" fill="#5050ff"/>
<rect x="60.15" y="173.80" width="41.15" height="10.00" fill="#8787ff"/>
<text x="102.70" y="181.25" font-size="6.5" font-family="Liberation Sans, Arial, sans-serif" text-anchor="start" fill="#111" stroke="#111" stroke-width="0.12">PA(PGF1alpha/2:0)</text>
<rect x="19.00" y="183.20" width="41.75" height="10.00" fill="#4646ff"/>
<rect x="60.15" y="183.20" width="41.15" height="10.00" fill="#7d7dff"/>
<text x="102.70" y="190.65" font-size="6.5" font-family="Liberation Sans, Arial, sans-serif" text-anchor="start" fill="#111" stroke="#111" stroke-width="0.12">3-Hydroxyvalerylcarnitine</text>
<rect x="19.00" y="192.60" width="41.75" height="10.00" fill="#5050ff"/>
<rect x="60.15" y="192.60" width="41.15" height="10.00" fill="#8787ff"/>
<text x="102.70" y="200.05" font-size="6.5" font-family="Liberation Sans, Arial, sans-serif" text-anchor="start" fill="#111" stroke="#111" stroke-width="0.12">Deoxycytidine</text>
<rect x="19.00" y="202.00" width="41.75" height="10.00" fill="#3232ff"/>
<rect x="60.15" y="202.00" width="41.15" height="10.00" fill="#5f5fff"/>
<text x="102.70" y="209.45" font-size="6.5" font-family="Liberation Sans, Arial, sans-serif" text-anchor="start" fill="#111" stroke="#111" stroke-width="0.12">LysoPC(18:0/0:0)</text>
<rect x="19.00" y="211.40" width="41.75" height="10.00" fill="#2828fa"/>
<rect x="60.15" y="211.40" width="41.15" height="10.00" fill="#4b4bff"/>
<text x="102.70" y="218.85" font-size="6.5" font-family="Liberation Sans, Arial, sans-serif" text-anchor="start" fill="#111" stroke="#111" stroke-width="0.12">Cholylglutamine</text>
<rect x="19.00" y="220.80" width="41.75" height="10.00" fill="#0000fa"/>
<rect x="60.15" y="220.80" width="41.15" height="10.00" fill="#2323fa"/>
<text x="102.70" y="228.25" font-size="6.5" font-family="Liberation Sans, Arial, sans-serif" text-anchor="start" fill="#111" stroke="#111" stroke-width="0.12">D-Mannose 6-Phosphate</text>
<rect x="19.00" y="230.20" width="41.75" height="10.00" fill="#0f0ffa"/>
<rect x="60.15" y="230.20" width="41.15" height="10.00" fill="#3737ff"/>
<text x="102.70" y="237.65" font-size="6.5" font-family="Liberation Sans, Arial, sans-serif" text-anchor="start" fill="#111" stroke="#111" stroke-width="0.12">PC(18:0/0:0)</text>
<rect x="19.00" y="239.60" width="41.75" height="10.00" fill="#1414fa"/>
<rect x="60.15" y="239.60" width="41.15" height="10.00" fill="#3c3cff"/>
<text x="102.70" y="247.05" font-size="6.5" font-family="Liberation Sans, Arial, sans-serif" text-anchor="start" fill="#111" stroke="#111" stroke-width="0.12">2-LysoPC</text>
<rect x="19.00" y="249.00" width="41.75" height="10.00" fill="#ff0000"/>
<rect x="60.15" y="249.00" width="41.15" height="10.00" fill="#ff0a0a"/>
<text x="102.70" y="256.45" font-size="6.5" font-family="Liberation Sans, Arial, sans-serif" text-anchor="start" fill="#111" stroke="#111" stroke-width="0.12">Triterpenoid</text>
<rect x="19.00" y="258.40" width="41.75" height="10.00" fill="#ff2828"/>
<rect x="60.15" y="258.40" width="41.15" height="10.00" fill="#ff3c3c"/>
<text x="102.70" y="265.85" font-size="6.5" font-family="Liberation Sans, Arial, sans-serif" text-anchor="start" fill="#111" stroke="#111" stroke-width="0.12">Riboflavin (Vitamin B2)</text>
<rect x="19.00" y="267.80" width="41.75" height="10.00" fill="#ff1e1e"/>
<rect x="60.15" y="267.80" width="41.15" height="10.00" fill="#ff3232"/>
<text x="102.70" y="275.25" font-size="6.5" font-family="Liberation Sans, Arial, sans-serif" text-anchor="start" fill="#111" stroke="#111" stroke-width="0.12">Riboflavin</text>
<rect x="19.00" y="277.20" width="41.75" height="10.00" fill="#ff6464"/>
<rect x="60.15" y="277.20" width="41.15" height="10.00" fill="#ff8282"/>
<text x="102.70" y="284.65" font-size="6.5" font-family="Liberation Sans, Arial, sans-serif" text-anchor="start" fill="#111" stroke="#111" stroke-width="0.12">Nopalinic acid</text>
<rect x="19.00" y="286.60" width="41.75" height="10.00" fill="#ff6e6e"/>
<rect x="60.15" y="286.60" width="41.15" height="10.00" fill="#ff9191"/>
<text x="102.70" y="294.05" font-size="6.5" font-family="Liberation Sans, Arial, sans-serif" text-anchor="start" fill="#111" stroke="#111" stroke-width="0.12">ACDCA</text>
<rect x="19.00" y="296.00" width="41.75" height="10.00" fill="#ff4141"/>
<rect x="60.15" y="296.00" width="41.15" height="10.00" fill="#ff4141"/>
<text x="102.70" y="303.45" font-size="6.5" font-family="Liberation Sans, Arial, sans-serif" text-anchor="start" fill="#111" stroke="#111" stroke-width="0.12">7-Methylguanine</text>
<rect x="19.00" y="305.40" width="41.75" height="10.00" fill="#ff4646"/>
<rect x="60.15" y="305.40" width="41.15" height="10.00" fill="#ff5a5a"/>
<text x="102.70" y="312.85" font-size="6.5" font-family="Liberation Sans, Arial, sans-serif" text-anchor="start" fill="#111" stroke="#111" stroke-width="0.12">PC(14:1(9Z)/20:0)</text>
<rect x="19.00" y="314.80" width="41.75" height="9.40" fill="#ff5050"/>
<rect x="60.15" y="314.80" width="41.15" height="9.40" fill="#ff5f5f"/>
<text x="102.70" y="322.25" font-size="6.5" font-family="Liberation Sans, Arial, sans-serif" text-anchor="start" fill="#111" stroke="#111" stroke-width="0.12">Pantothenic Acid</text>
<text x="37.38" y="227.50" font-size="5.2" font-family="DejaVu Sans, sans-serif" text-anchor="middle" fill="#000" letter-spacing="-0.6">★</text>
<text x="37.38" y="236.90" font-size="5.2" font-family="DejaVu Sans, sans-serif" text-anchor="middle" fill="#000" letter-spacing="-0.6">★</text>
<text x="37.38" y="246.30" font-size="5.2" font-family="DejaVu Sans, sans-serif" text-anchor="middle" fill="#000" letter-spacing="-0.6">★</text>
<text x="40.08" y="255.70" font-size="5.2" font-family="DejaVu Sans, sans-serif" text-anchor="middle" fill="#000" letter-spacing="-0.6">★★★</text>
<text x="79.22" y="255.70" font-size="5.2" font-family="DejaVu Sans, sans-serif" text-anchor="middle" fill="#000" letter-spacing="-0.6">★★</text>
<text x="37.38" y="265.10" font-size="5.2" font-family="DejaVu Sans, sans-serif" text-anchor="middle" fill="#000" letter-spacing="-0.6">★</text>
<text x="37.38" y="274.50" font-size="5.2" font-family="DejaVu Sans, sans-serif" text-anchor="middle" fill="#000" letter-spacing="-0.6">★</text>
<text x="77.92" y="274.50" font-size="5.2" font-family="DejaVu Sans, sans-serif" text-anchor="middle" fill="#000" letter-spacing="-0.6">★</text>
<text x="39.50" y="331.90" font-size="6.5" font-family="Liberation Sans, Arial, sans-serif" text-anchor="middle" fill="#111" stroke="#111" stroke-width="0.12">Cd3g</text>
<text x="81.50" y="331.90" font-size="6.5" font-family="Liberation Sans, Arial, sans-serif" text-anchor="middle" fill="#111" stroke="#111" stroke-width="0.12">Cd3e</text>
<path d="M39.3,173.8 V170.3 H81.8 V173.8" fill="none" stroke="#555" stroke-width="0.45"/>
<path d="M18.60,178.50 V319.50 M17.40,192.60 V234.90 M17.40,260.28 V305.40 M16.40,211.40 V286.60" fill="none" stroke="#666" stroke-width="0.45"/>
<text x="169.30" y="174.30" font-size="13.2" font-family="Liberation Serif, Times New Roman, serif" text-anchor="start" font-weight="bold" fill="#000" >F</text>
<rect x="184.00" y="173.80" width="27.17" height="10.04" fill="#0000fa"/>
<rect x="210.57" y="173.80" width="27.17" height="10.04" fill="#1919fa"/>
<rect x="237.13" y="173.80" width="26.57" height="10.04" fill="#1919fa"/>
<text x="266.00" y="181.27" font-size="6.5" font-family="Liberation Sans, Arial, sans-serif" text-anchor="start" fill="#111" stroke="#111" stroke-width="0.12">PC(18:0/0:0)</text>
<rect x="184.00" y="183.24" width="27.17" height="10.04" fill="#0505fa"/>
<rect x="210.57" y="183.24" width="27.17" height="10.04" fill="#1e1efa"/>
<rect x="237.13" y="183.24" width="26.57" height="10.04" fill="#1e1efa"/>
<text x="266.00" y="190.71" font-size="6.5" font-family="Liberation Sans, Arial, sans-serif" text-anchor="start" fill="#111" stroke="#111" stroke-width="0.12">2-LysoPC</text>
<rect x="184.00" y="192.68" width="27.17" height="10.04" fill="#1919fa"/>
<rect x="210.57" y="192.68" width="27.17" height="10.04" fill="#1e1efa"/>
<rect x="237.13" y="192.68" width="26.57" height="10.04" fill="#2d2dff"/>
<text x="266.00" y="200.14" font-size="6.5" font-family="Liberation Sans, Arial, sans-serif" text-anchor="start" fill="#111" stroke="#111" stroke-width="0.12">D-Mannose 6-Phosphate</text>
<rect x="184.00" y="202.11" width="27.17" height="10.04" fill="#0f0ffa"/>
<rect x="210.57" y="202.11" width="27.17" height="10.04" fill="#4b4bff"/>
<rect x="237.13" y="202.11" width="26.57" height="10.04" fill="#3c3cff"/>
<text x="266.00" y="209.58" font-size="6.5" font-family="Liberation Sans, Arial, sans-serif" text-anchor="start" fill="#111" stroke="#111" stroke-width="0.12">PA(PGF1alpha/2:0)</text>
<rect x="184.00" y="211.55" width="27.17" height="10.04" fill="#0000fa"/>
<rect x="210.57" y="211.55" width="27.17" height="10.04" fill="#3737ff"/>
<rect x="237.13" y="211.55" width="26.57" height="10.04" fill="#2828fa"/>
<text x="266.00" y="219.02" font-size="6.5" font-family="Liberation Sans, Arial, sans-serif" text-anchor="start" fill="#111" stroke="#111" stroke-width="0.12">LysoPC(18:0/0:0)</text>
<rect x="184.00" y="220.99" width="27.17" height="10.04" fill="#0505fa"/>
<rect x="210.57" y="220.99" width="27.17" height="10.04" fill="#3737ff"/>
<rect x="237.13" y="220.99" width="26.57" height="10.04" fill="#3232ff"/>
<text x="266.00" y="228.46" font-size="6.5" font-family="Liberation Sans, Arial, sans-serif" text-anchor="start" fill="#111" stroke="#111" stroke-width="0.12">Cholylglutamine</text>
<rect x="184.00" y="230.43" width="27.17" height="10.04" fill="#3c3cff"/>
<rect x="210.57" y="230.43" width="27.17" height="10.04" fill="#4b4bff"/>
<rect x="237.13" y="230.43" width="26.57" height="10.04" fill="#4646ff"/>
<text x="266.00" y="237.89" font-size="6.5" font-family="Liberation Sans, Arial, sans-serif" text-anchor="start" fill="#111" stroke="#111" stroke-width="0.12">3-Hydroxyvalerylcarnitine</text>
<rect x="184.00" y="239.86" width="27.17" height="10.04" fill="#4b4bff"/>
<rect x="210.57" y="239.86" width="27.17" height="10.04" fill="#7373ff"/>
<rect x="237.13" y="239.86" width="26.57" height="10.04" fill="#6464ff"/>
<text x="266.00" y="247.33" font-size="6.5" font-family="Liberation Sans, Arial, sans-serif" text-anchor="start" fill="#111" stroke="#111" stroke-width="0.12">Deoxycytidine</text>
<rect x="184.00" y="249.30" width="27.17" height="10.04" fill="#ff5f5f"/>
<rect x="210.57" y="249.30" width="27.17" height="10.04" fill="#ffd2d2"/>
<rect x="237.13" y="249.30" width="26.57" height="10.04" fill="#ffdcdc"/>
<text x="266.00" y="256.77" font-size="6.5" font-family="Liberation Sans, Arial, sans-serif" text-anchor="start" fill="#111" stroke="#111" stroke-width="0.12">ACDCA</text>
<rect x="184.00" y="258.74" width="27.17" height="10.04" fill="#ff5555"/>
<rect x="210.57" y="258.74" width="27.17" height="10.04" fill="#ff0000"/>
<rect x="237.13" y="258.74" width="26.57" height="10.04" fill="#ff0a0a"/>
<text x="266.00" y="266.21" font-size="6.5" font-family="Liberation Sans, Arial, sans-serif" text-anchor="start" fill="#111" stroke="#111" stroke-width="0.12">Nopalinic acid</text>
<rect x="184.00" y="268.18" width="27.17" height="10.04" fill="#ff1414"/>
<rect x="210.57" y="268.18" width="27.17" height="10.04" fill="#ff6e6e"/>
<rect x="237.13" y="268.18" width="26.57" height="10.04" fill="#ff6969"/>
<text x="266.00" y="275.64" font-size="6.5" font-family="Liberation Sans, Arial, sans-serif" text-anchor="start" fill="#111" stroke="#111" stroke-width="0.12">Pantothenic Acid</text>
<rect x="184.00" y="277.61" width="27.17" height="10.04" fill="#ff2d2d"/>
<rect x="210.57" y="277.61" width="27.17" height="10.04" fill="#ff5a5a"/>
<rect x="237.13" y="277.61" width="26.57" height="10.04" fill="#ff5555"/>
<text x="266.00" y="285.08" font-size="6.5" font-family="Liberation Sans, Arial, sans-serif" text-anchor="start" fill="#111" stroke="#111" stroke-width="0.12">7-Methylguanine</text>
<rect x="184.00" y="287.05" width="27.17" height="10.04" fill="#ff2d2d"/>
<rect x="210.57" y="287.05" width="27.17" height="10.04" fill="#ff3737"/>
<rect x="237.13" y="287.05" width="26.57" height="10.04" fill="#ff4646"/>
<text x="266.00" y="294.52" font-size="6.5" font-family="Liberation Sans, Arial, sans-serif" text-anchor="start" fill="#111" stroke="#111" stroke-width="0.12">Triterpenoid</text>
<rect x="184.00" y="296.49" width="27.17" height="10.04" fill="#ff0000"/>
<rect x="210.57" y="296.49" width="27.17" height="10.04" fill="#ff4646"/>
<rect x="237.13" y="296.49" width="26.57" height="10.04" fill="#ff3c3c"/>
<text x="266.00" y="303.96" font-size="6.5" font-family="Liberation Sans, Arial, sans-serif" text-anchor="start" fill="#111" stroke="#111" stroke-width="0.12">PC(14:1(9Z)/20:0)</text>
<rect x="184.00" y="305.93" width="27.17" height="10.04" fill="#ff0a0a"/>
<rect x="210.57" y="305.93" width="27.17" height="10.04" fill="#ff4b4b"/>
<rect x="237.13" y="305.93" width="26.57" height="10.04" fill="#ff4141"/>
<text x="266.00" y="313.39" font-size="6.5" font-family="Liberation Sans, Arial, sans-serif" text-anchor="start" fill="#111" stroke="#111" stroke-width="0.12">Riboflavin (Vitamin B2)</text>
<rect x="184.00" y="315.36" width="27.17" height="9.44" fill="#ff0505"/>
<rect x="210.57" y="315.36" width="27.17" height="9.44" fill="#ff4b4b"/>
<rect x="237.13" y="315.36" width="26.57" height="9.44" fill="#ff4646"/>
<text x="266.00" y="322.83" font-size="6.5" font-family="Liberation Sans, Arial, sans-serif" text-anchor="start" fill="#111" stroke="#111" stroke-width="0.12">Riboflavin</text>
<text x="196.58" y="180.52" font-size="5.2" font-family="DejaVu Sans, sans-serif" text-anchor="middle" fill="#000" letter-spacing="-0.6">★★★</text>
<text x="225.35" y="180.52" font-size="5.2" font-family="DejaVu Sans, sans-serif" text-anchor="middle" fill="#000" letter-spacing="-0.6">★</text>
<text x="251.82" y="180.52" font-size="5.2" font-family="DejaVu Sans, sans-serif" text-anchor="middle" fill="#000" letter-spacing="-0.6">★</text>
<text x="196.58" y="189.96" font-size="5.2" font-family="DejaVu Sans, sans-serif" text-anchor="middle" fill="#000" letter-spacing="-0.6">★★★</text>
<text x="225.35" y="189.96" font-size="5.2" font-family="DejaVu Sans, sans-serif" text-anchor="middle" fill="#000" letter-spacing="-0.6">★</text>
<text x="251.82" y="189.96" font-size="5.2" font-family="DejaVu Sans, sans-serif" text-anchor="middle" fill="#000" letter-spacing="-0.6">★</text>
<text x="196.58" y="199.39" font-size="5.2" font-family="DejaVu Sans, sans-serif" text-anchor="middle" fill="#000" letter-spacing="-0.6">★</text>
<text x="225.35" y="199.39" font-size="5.2" font-family="DejaVu Sans, sans-serif" text-anchor="middle" fill="#000" letter-spacing="-0.6">★</text>
<text x="251.82" y="199.39" font-size="5.2" font-family="DejaVu Sans, sans-serif" text-anchor="middle" fill="#000" letter-spacing="-0.6">★</text>
<text x="196.58" y="208.83" font-size="5.2" font-family="DejaVu Sans, sans-serif" text-anchor="middle" fill="#000" letter-spacing="-0.6">★</text>
<text x="196.58" y="218.27" font-size="5.2" font-family="DejaVu Sans, sans-serif" text-anchor="middle" fill="#000" letter-spacing="-0.6">★★★</text>
<text x="251.82" y="218.27" font-size="5.2" font-family="DejaVu Sans, sans-serif" text-anchor="middle" fill="#000" letter-spacing="-0.6">★</text>
<text x="194.98" y="227.71" font-size="5.2" font-family="DejaVu Sans, sans-serif" text-anchor="middle" fill="#000" letter-spacing="-0.6">★★</text>
<text x="228.35" y="265.46" font-size="5.2" font-family="DejaVu Sans, sans-serif" text-anchor="middle" fill="#000" letter-spacing="-0.6">★★</text>
<text x="254.82" y="265.46" font-size="5.2" font-family="DejaVu Sans, sans-serif" text-anchor="middle" fill="#000" letter-spacing="-0.6">★★</text>
<text x="196.58" y="274.89" font-size="5.2" font-family="DejaVu Sans, sans-serif" text-anchor="middle" fill="#000" letter-spacing="-0.6">★</text>
<text x="196.58" y="303.21" font-size="5.2" font-family="DejaVu Sans, sans-serif" text-anchor="middle" fill="#000" letter-spacing="-0.6">★★★</text>
<text x="194.98" y="312.64" font-size="5.2" font-family="DejaVu Sans, sans-serif" text-anchor="middle" fill="#000" letter-spacing="-0.6">★★</text>
<text x="194.98" y="322.08" font-size="5.2" font-family="DejaVu Sans, sans-serif" text-anchor="middle" fill="#000" letter-spacing="-0.6">★★</text>
<text x="198.70" y="331.90" font-size="6.5" font-family="Liberation Sans, Arial, sans-serif" text-anchor="middle" fill="#111" stroke="#111" stroke-width="0.12">Cx3cr1</text>
<text x="225.20" y="331.90" font-size="6.5" font-family="Liberation Sans, Arial, sans-serif" text-anchor="middle" fill="#111" stroke="#111" stroke-width="0.12">Ccl5</text>
<text x="250.40" y="331.90" font-size="6.5" font-family="Liberation Sans, Arial, sans-serif" text-anchor="middle" fill="#111" stroke="#111" stroke-width="0.12">Cxcl14</text>
<path d="M197.4,173.8 V170.6 H239.8 V172.9 M226.1,173.8 V172.9 H253 V173.8" fill="none" stroke="#555" stroke-width="0.45"/>
<path d="M183.60,178.52 V320.08 M182.40,192.68 V235.14 M182.40,260.62 V305.93 M181.40,211.55 V287.05" fill="none" stroke="#666" stroke-width="0.45"/>
<text x="334.30" y="174.30" font-size="13.2" font-family="Liberation Serif, Times New Roman, serif" text-anchor="start" font-weight="bold" fill="#000" >G</text>
<rect x="348.10" y="173.30" width="27.23" height="9.99" fill="#ff4646"/>
<rect x="374.73" y="173.30" width="27.23" height="9.99" fill="#2323fa"/>
<rect x="401.37" y="173.30" width="26.63" height="9.99" fill="#8c8cff"/>
<text x="429.40" y="180.75" font-size="6.5" font-family="Liberation Sans, Arial, sans-serif" text-anchor="start" fill="#111" stroke="#111" stroke-width="0.12">Deoxycytidine</text>
<rect x="348.10" y="182.69" width="27.23" height="9.99" fill="#ff2d2d"/>
<rect x="374.73" y="182.69" width="27.23" height="9.99" fill="#1919fa"/>
<rect x="401.37" y="182.69" width="26.63" height="9.99" fill="#5050ff"/>
<text x="429.40" y="190.14" font-size="6.5" font-family="Liberation Sans, Arial, sans-serif" text-anchor="start" fill="#111" stroke="#111" stroke-width="0.12">PA(PGF1alpha/2:0)</text>
<rect x="348.10" y="192.09" width="27.23" height="9.99" fill="#ff2d2d"/>
<rect x="374.73" y="192.09" width="27.23" height="9.99" fill="#1e1efa"/>
<rect x="401.37" y="192.09" width="26.63" height="9.99" fill="#5f5fff"/>
<text x="429.40" y="199.53" font-size="6.5" font-family="Liberation Sans, Arial, sans-serif" text-anchor="start" fill="#111" stroke="#111" stroke-width="0.12">3-Hydroxyvalerylcarnitine</text>
<rect x="348.10" y="201.48" width="27.23" height="9.99" fill="#ff0000"/>
<rect x="374.73" y="201.48" width="27.23" height="9.99" fill="#0000fa"/>
<rect x="401.37" y="201.48" width="26.63" height="9.99" fill="#4646ff"/>
<text x="429.40" y="208.93" font-size="6.5" font-family="Liberation Sans, Arial, sans-serif" text-anchor="start" fill="#111" stroke="#111" stroke-width="0.12">PC(18:0/0:0)</text>
<rect x="348.10" y="210.88" width="27.23" height="9.99" fill="#ff0505"/>
<rect x="374.73" y="210.88" width="27.23" height="9.99" fill="#0505fa"/>
<rect x="401.37" y="210.88" width="26.63" height="9.99" fill="#4b4bff"/>
<text x="429.40" y="218.32" font-size="6.5" font-family="Liberation Sans, Arial, sans-serif" text-anchor="start" fill="#111" stroke="#111" stroke-width="0.12">2-LysoPC</text>
<rect x="348.10" y="220.27" width="27.23" height="9.99" fill="#ff0a0a"/>
<rect x="374.73" y="220.27" width="27.23" height="9.99" fill="#0000fa"/>
<rect x="401.37" y="220.27" width="26.63" height="9.99" fill="#5555ff"/>
<text x="429.40" y="227.72" font-size="6.5" font-family="Liberation Sans, Arial, sans-serif" text-anchor="start" fill="#111" stroke="#111" stroke-width="0.12">Cholylglutamine</text>
<rect x="348.10" y="229.66" width="27.23" height="9.99" fill="#ff0a0a"/>
<rect x="374.73" y="229.66" width="27.23" height="9.99" fill="#0f0ffa"/>
<rect x="401.37" y="229.66" width="26.63" height="9.99" fill="#4b4bff"/>
<text x="429.40" y="237.11" font-size="6.5" font-family="Liberation Sans, Arial, sans-serif" text-anchor="start" fill="#111" stroke="#111" stroke-width="0.12">LysoPC(18:0/0:0)</text>
<rect x="348.10" y="239.06" width="27.23" height="9.99" fill="#ff1414"/>
<rect x="374.73" y="239.06" width="27.23" height="9.99" fill="#0a0afa"/>
<rect x="401.37" y="239.06" width="26.63" height="9.99" fill="#3c3cff"/>
<text x="429.40" y="246.50" font-size="6.5" font-family="Liberation Sans, Arial, sans-serif" text-anchor="start" fill="#111" stroke="#111" stroke-width="0.12">D-Mannose 6-Phosphate</text>
<rect x="348.10" y="248.45" width="27.23" height="9.99" fill="#8787ff"/>
<rect x="374.73" y="248.45" width="27.23" height="9.99" fill="#ff4141"/>
<rect x="401.37" y="248.45" width="26.63" height="9.99" fill="#ebebff"/>
<text x="429.40" y="255.90" font-size="6.5" font-family="Liberation Sans, Arial, sans-serif" text-anchor="start" fill="#111" stroke="#111" stroke-width="0.12">ACDCA</text>
<rect x="348.10" y="257.84" width="27.23" height="9.99" fill="#3c3cff"/>
<rect x="374.73" y="257.84" width="27.23" height="9.99" fill="#ff7878"/>
<rect x="401.37" y="257.84" width="26.63" height="9.99" fill="#ff0000"/>
<text x="429.40" y="265.29" font-size="6.5" font-family="Liberation Sans, Arial, sans-serif" text-anchor="start" fill="#111" stroke="#111" stroke-width="0.12">Nopalinic acid</text>
<rect x="348.10" y="267.24" width="27.23" height="9.99" fill="#0f0ffa"/>
<rect x="374.73" y="267.24" width="27.23" height="9.99" fill="#ff0505"/>
<rect x="401.37" y="267.24" width="26.63" height="9.99" fill="#ff8282"/>
<text x="429.40" y="274.68" font-size="6.5" font-family="Liberation Sans, Arial, sans-serif" text-anchor="start" fill="#111" stroke="#111" stroke-width="0.12">Riboflavin (Vitamin B2)</text>
<rect x="348.10" y="276.63" width="27.23" height="9.99" fill="#0a0afa"/>
<rect x="374.73" y="276.63" width="27.23" height="9.99" fill="#ff0505"/>
<rect x="401.37" y="276.63" width="26.63" height="9.99" fill="#ff8787"/>
<text x="429.40" y="284.08" font-size="6.5" font-family="Liberation Sans, Arial, sans-serif" text-anchor="start" fill="#111" stroke="#111" stroke-width="0.12">Riboflavin</text>
<rect x="348.10" y="286.03" width="27.23" height="9.99" fill="#0a0afa"/>
<rect x="374.73" y="286.03" width="27.23" height="9.99" fill="#ff0a0a"/>
<rect x="401.37" y="286.03" width="26.63" height="9.99" fill="#ff6464"/>
<text x="429.40" y="293.47" font-size="6.5" font-family="Liberation Sans, Arial, sans-serif" text-anchor="start" fill="#111" stroke="#111" stroke-width="0.12">PC(14:1(9Z)/20:0)</text>
<rect x="348.10" y="295.42" width="27.23" height="9.99" fill="#1414fa"/>
<rect x="374.73" y="295.42" width="27.23" height="9.99" fill="#ff1e1e"/>
<rect x="401.37" y="295.42" width="26.63" height="9.99" fill="#ff6e6e"/>
<text x="429.40" y="302.87" font-size="6.5" font-family="Liberation Sans, Arial, sans-serif" text-anchor="start" fill="#111" stroke="#111" stroke-width="0.12">Triterpenoid</text>
<rect x="348.10" y="304.81" width="27.23" height="9.99" fill="#3737ff"/>
<rect x="374.73" y="304.81" width="27.23" height="9.99" fill="#ff2323"/>
<rect x="401.37" y="304.81" width="26.63" height="9.99" fill="#ff9696"/>
<text x="429.40" y="312.26" font-size="6.5" font-family="Liberation Sans, Arial, sans-serif" text-anchor="start" fill="#111" stroke="#111" stroke-width="0.12">Pantothenic Acid</text>
<rect x="348.10" y="314.21" width="27.23" height="9.39" fill="#4141ff"/>
<rect x="374.73" y="314.21" width="27.23" height="9.39" fill="#ff4b4b"/>
<rect x="401.37" y="314.21" width="26.63" height="9.39" fill="#ff6e6e"/>
<text x="429.40" y="321.65" font-size="6.5" font-family="Liberation Sans, Arial, sans-serif" text-anchor="start" fill="#111" stroke="#111" stroke-width="0.12">7-Methylguanine</text>
<text x="386.55" y="180.00" font-size="5.2" font-family="DejaVu Sans, sans-serif" text-anchor="middle" fill="#000" letter-spacing="-0.6">★</text>
<text x="359.92" y="189.39" font-size="5.2" font-family="DejaVu Sans, sans-serif" text-anchor="middle" fill="#000" letter-spacing="-0.6">★</text>
<text x="386.55" y="189.39" font-size="5.2" font-family="DejaVu Sans, sans-serif" text-anchor="middle" fill="#000" letter-spacing="-0.6">★</text>
<text x="359.92" y="198.78" font-size="5.2" font-family="DejaVu Sans, sans-serif" text-anchor="middle" fill="#000" letter-spacing="-0.6">★</text>
<text x="386.55" y="198.78" font-size="5.2" font-family="DejaVu Sans, sans-serif" text-anchor="middle" fill="#000" letter-spacing="-0.6">★</text>
<text x="362.62" y="208.18" font-size="5.2" font-family="DejaVu Sans, sans-serif" text-anchor="middle" fill="#000" letter-spacing="-0.6">★★★</text>
<text x="388.05" y="208.18" font-size="5.2" font-family="DejaVu Sans, sans-serif" text-anchor="middle" fill="#000" letter-spacing="-0.6">★★</text>
<text x="361.42" y="217.57" font-size="5.2" font-family="DejaVu Sans, sans-serif" text-anchor="middle" fill="#000" letter-spacing="-0.6">★★</text>
<text x="388.05" y="217.57" font-size="5.2" font-family="DejaVu Sans, sans-serif" text-anchor="middle" fill="#000" letter-spacing="-0.6">★★</text>
<text x="361.42" y="226.97" font-size="5.2" font-family="DejaVu Sans, sans-serif" text-anchor="middle" fill="#000" letter-spacing="-0.6">★★</text>
<text x="389.25" y="226.97" font-size="5.2" font-family="DejaVu Sans, sans-serif" text-anchor="middle" fill="#000" letter-spacing="-0.6">★★★</text>
<text x="361.42" y="236.36" font-size="5.2" font-family="DejaVu Sans, sans-serif" text-anchor="middle" fill="#000" letter-spacing="-0.6">★★</text>
<text x="388.05" y="236.36" font-size="5.2" font-family="DejaVu Sans, sans-serif" text-anchor="middle" fill="#000" letter-spacing="-0.6">★★</text>
<text x="359.92" y="245.75" font-size="5.2" font-family="DejaVu Sans, sans-serif" text-anchor="middle" fill="#000" letter-spacing="-0.6">★</text>
<text x="386.55" y="245.75" font-size="5.2" font-family="DejaVu Sans, sans-serif" text-anchor="middle" fill="#000" letter-spacing="-0.6">★</text>
<text x="414.68" y="264.54" font-size="5.2" font-family="DejaVu Sans, sans-serif" text-anchor="middle" fill="#000" letter-spacing="-0.6">★★</text>
<text x="359.92" y="273.93" font-size="5.2" font-family="DejaVu Sans, sans-serif" text-anchor="middle" fill="#000" letter-spacing="-0.6">★</text>
<text x="388.05" y="273.93" font-size="5.2" font-family="DejaVu Sans, sans-serif" text-anchor="middle" fill="#000" letter-spacing="-0.6">★★</text>
<text x="359.92" y="283.33" font-size="5.2" font-family="DejaVu Sans, sans-serif" text-anchor="middle" fill="#000" letter-spacing="-0.6">★</text>
<text x="388.05" y="283.33" font-size="5.2" font-family="DejaVu Sans, sans-serif" text-anchor="middle" fill="#000" letter-spacing="-0.6">★★</text>
<text x="359.92" y="292.72" font-size="5.2" font-family="DejaVu Sans, sans-serif" text-anchor="middle" fill="#000" letter-spacing="-0.6">★</text>
<text x="388.05" y="292.72" font-size="5.2" font-family="DejaVu Sans, sans-serif" text-anchor="middle" fill="#000" letter-spacing="-0.6">★★</text>
<text x="359.92" y="302.12" font-size="5.2" font-family="DejaVu Sans, sans-serif" text-anchor="middle" fill="#000" letter-spacing="-0.6">★</text>
<text x="386.55" y="302.12" font-size="5.2" font-family="DejaVu Sans, sans-serif" text-anchor="middle" fill="#000" letter-spacing="-0.6">★</text>
<text x="386.55" y="311.51" font-size="5.2" font-family="DejaVu Sans, sans-serif" text-anchor="middle" fill="#000" letter-spacing="-0.6">★</text>
<text x="363.10" y="331.90" font-size="6.5" font-family="Liberation Sans, Arial, sans-serif" text-anchor="middle" fill="#111" stroke="#111" stroke-width="0.12">Pla2g4c</text>
<text x="389.90" y="331.90" font-size="6.5" font-family="Liberation Sans, Arial, sans-serif" text-anchor="middle" fill="#111" stroke="#111" stroke-width="0.12">Arrb1</text>
<text x="416.30" y="331.90" font-size="6.5" font-family="Liberation Sans, Arial, sans-serif" text-anchor="middle" fill="#111" stroke="#111" stroke-width="0.12">Kdr</text>
<path d="M361.5,173.3 V171 H401.4 V172 M388.5,173.3 V172 H414.5 V173.3" fill="none" stroke="#555" stroke-width="0.45"/>
<path d="M347.70,178.00 V318.90 M346.50,192.09 V234.36 M346.50,259.72 V304.81 M345.50,210.88 V286.03" fill="none" stroke="#666" stroke-width="0.45"/>
<text x="499.50" y="174.30" font-size="13.2" font-family="Liberation Serif, Times New Roman, serif" text-anchor="start" font-weight="bold" fill="#000" >H</text>
<rect x="514.10" y="173.60" width="40.90" height="10.01" fill="#2323fa"/>
<rect x="554.40" y="173.60" width="40.30" height="10.01" fill="#a5a5ff"/>
<text x="596.10" y="181.06" font-size="6.5" font-family="Liberation Sans, Arial, sans-serif" text-anchor="start" fill="#111" stroke="#111" stroke-width="0.12">Deoxycytidine</text>
<rect x="514.10" y="183.01" width="40.90" height="10.01" fill="#1919fa"/>
<rect x="554.40" y="183.01" width="40.30" height="10.01" fill="#6464ff"/>
<text x="596.10" y="190.47" font-size="6.5" font-family="Liberation Sans, Arial, sans-serif" text-anchor="start" fill="#111" stroke="#111" stroke-width="0.12">PA(PGF1alpha/2:0)</text>
<rect x="514.10" y="192.42" width="40.90" height="10.01" fill="#1e1efa"/>
<rect x="554.40" y="192.42" width="40.30" height="10.01" fill="#6e6eff"/>
<text x="596.10" y="199.88" font-size="6.5" font-family="Liberation Sans, Arial, sans-serif" text-anchor="start" fill="#111" stroke="#111" stroke-width="0.12">3-Hydroxyvalerylcarnitine</text>
<rect x="514.10" y="201.84" width="40.90" height="10.01" fill="#0000fa"/>
<rect x="554.40" y="201.84" width="40.30" height="10.01" fill="#7d7dff"/>
<text x="596.10" y="209.29" font-size="6.5" font-family="Liberation Sans, Arial, sans-serif" text-anchor="start" fill="#111" stroke="#111" stroke-width="0.12">Cholylglutamine</text>
<rect x="514.10" y="211.25" width="40.90" height="10.01" fill="#0f0ffa"/>
<rect x="554.40" y="211.25" width="40.30" height="10.01" fill="#6969ff"/>
<text x="596.10" y="218.71" font-size="6.5" font-family="Liberation Sans, Arial, sans-serif" text-anchor="start" fill="#111" stroke="#111" stroke-width="0.12">LysoPC(18:0/0:0)</text>
<rect x="514.10" y="220.66" width="40.90" height="10.01" fill="#0a0afa"/>
<rect x="554.40" y="220.66" width="40.30" height="10.01" fill="#5f5fff"/>
<text x="596.10" y="228.12" font-size="6.5" font-family="Liberation Sans, Arial, sans-serif" text-anchor="start" fill="#111" stroke="#111" stroke-width="0.12">D-Mannose 6-Phosphate</text>
<rect x="514.10" y="230.07" width="40.90" height="10.01" fill="#0000fa"/>
<rect x="554.40" y="230.07" width="40.30" height="10.01" fill="#5f5fff"/>
<text x="596.10" y="237.53" font-size="6.5" font-family="Liberation Sans, Arial, sans-serif" text-anchor="start" fill="#111" stroke="#111" stroke-width="0.12">PC(18:0/0:0)</text>
<rect x="514.10" y="239.49" width="40.90" height="10.01" fill="#0505fa"/>
<rect x="554.40" y="239.49" width="40.30" height="10.01" fill="#5a5aff"/>
<text x="596.10" y="246.94" font-size="6.5" font-family="Liberation Sans, Arial, sans-serif" text-anchor="start" fill="#111" stroke="#111" stroke-width="0.12">2-LysoPC</text>
<rect x="514.10" y="248.90" width="40.90" height="10.01" fill="#ff7373"/>
<rect x="554.40" y="248.90" width="40.30" height="10.01" fill="#ff0000"/>
<text x="596.10" y="256.36" font-size="6.5" font-family="Liberation Sans, Arial, sans-serif" text-anchor="start" fill="#111" stroke="#111" stroke-width="0.12">Nopalinic acid</text>
<rect x="514.10" y="258.31" width="40.90" height="10.01" fill="#ff3c3c"/>
<rect x="554.40" y="258.31" width="40.30" height="10.01" fill="#c8c8ff"/>
<text x="596.10" y="265.77" font-size="6.5" font-family="Liberation Sans, Arial, sans-serif" text-anchor="start" fill="#111" stroke="#111" stroke-width="0.12">ACDCA</text>
<rect x="514.10" y="267.73" width="40.90" height="10.01" fill="#ff2323"/>
<rect x="554.40" y="267.73" width="40.30" height="10.01" fill="#ffcdcd"/>
<text x="596.10" y="275.18" font-size="6.5" font-family="Liberation Sans, Arial, sans-serif" text-anchor="start" fill="#111" stroke="#111" stroke-width="0.12">Pantothenic Acid</text>
<rect x="514.10" y="277.14" width="40.90" height="10.01" fill="#ff0505"/>
<rect x="554.40" y="277.14" width="40.30" height="10.01" fill="#ffafaf"/>
<text x="596.10" y="284.59" font-size="6.5" font-family="Liberation Sans, Arial, sans-serif" text-anchor="start" fill="#111" stroke="#111" stroke-width="0.12">Riboflavin (Vitamin B2)</text>
<rect x="514.10" y="286.55" width="40.90" height="10.01" fill="#ff0505"/>
<rect x="554.40" y="286.55" width="40.30" height="10.01" fill="#ffaaaa"/>
<text x="596.10" y="294.01" font-size="6.5" font-family="Liberation Sans, Arial, sans-serif" text-anchor="start" fill="#111" stroke="#111" stroke-width="0.12">Riboflavin</text>
<rect x="514.10" y="295.96" width="40.90" height="10.01" fill="#ff4b4b"/>
<rect x="554.40" y="295.96" width="40.30" height="10.01" fill="#ffa0a0"/>
<text x="596.10" y="303.42" font-size="6.5" font-family="Liberation Sans, Arial, sans-serif" text-anchor="start" fill="#111" stroke="#111" stroke-width="0.12">7-Methylguanine</text>
<rect x="514.10" y="305.38" width="40.90" height="10.01" fill="#ff0a0a"/>
<rect x="554.40" y="305.38" width="40.30" height="10.01" fill="#ff8c8c"/>
<text x="596.10" y="312.83" font-size="6.5" font-family="Liberation Sans, Arial, sans-serif" text-anchor="start" fill="#111" stroke="#111" stroke-width="0.12">PC(14:1(9Z)/20:0)</text>
<rect x="514.10" y="314.79" width="40.90" height="9.41" fill="#ff1e1e"/>
<rect x="554.40" y="314.79" width="40.30" height="9.41" fill="#ff8c8c"/>
<text x="596.10" y="322.24" font-size="6.5" font-family="Liberation Sans, Arial, sans-serif" text-anchor="start" fill="#111" stroke="#111" stroke-width="0.12">Triterpenoid</text>
<text x="532.75" y="180.31" font-size="5.2" font-family="DejaVu Sans, sans-serif" text-anchor="middle" fill="#000" letter-spacing="-0.6">★</text>
<text x="532.75" y="189.72" font-size="5.2" font-family="DejaVu Sans, sans-serif" text-anchor="middle" fill="#000" letter-spacing="-0.6">★</text>
<text x="532.75" y="199.13" font-size="5.2" font-family="DejaVu Sans, sans-serif" text-anchor="middle" fill="#000" letter-spacing="-0.6">★</text>
<text x="535.95" y="208.54" font-size="5.2" font-family="DejaVu Sans, sans-serif" text-anchor="middle" fill="#000" letter-spacing="-0.6">★★★</text>
<text x="534.55" y="217.96" font-size="5.2" font-family="DejaVu Sans, sans-serif" text-anchor="middle" fill="#000" letter-spacing="-0.6">★★</text>
<text x="532.75" y="227.37" font-size="5.2" font-family="DejaVu Sans, sans-serif" text-anchor="middle" fill="#000" letter-spacing="-0.6">★</text>
<text x="534.55" y="236.78" font-size="5.2" font-family="DejaVu Sans, sans-serif" text-anchor="middle" fill="#000" letter-spacing="-0.6">★★</text>
<text x="534.55" y="246.19" font-size="5.2" font-family="DejaVu Sans, sans-serif" text-anchor="middle" fill="#000" letter-spacing="-0.6">★★</text>
<text x="574.85" y="255.61" font-size="5.2" font-family="DejaVu Sans, sans-serif" text-anchor="middle" fill="#000" letter-spacing="-0.6">★★</text>
<text x="532.75" y="274.43" font-size="5.2" font-family="DejaVu Sans, sans-serif" text-anchor="middle" fill="#000" letter-spacing="-0.6">★</text>
<text x="534.55" y="283.84" font-size="5.2" font-family="DejaVu Sans, sans-serif" text-anchor="middle" fill="#000" letter-spacing="-0.6">★★</text>
<text x="534.55" y="293.26" font-size="5.2" font-family="DejaVu Sans, sans-serif" text-anchor="middle" fill="#000" letter-spacing="-0.6">★★</text>
<text x="534.55" y="312.08" font-size="5.2" font-family="DejaVu Sans, sans-serif" text-anchor="middle" fill="#000" letter-spacing="-0.6">★★</text>
<text x="532.75" y="321.49" font-size="5.2" font-family="DejaVu Sans, sans-serif" text-anchor="middle" fill="#000" letter-spacing="-0.6">★</text>
<text x="537.00" y="331.90" font-size="6.5" font-family="Liberation Sans, Arial, sans-serif" text-anchor="middle" fill="#111" stroke="#111" stroke-width="0.12">Arrb1</text>
<text x="575.20" y="331.90" font-size="6.5" font-family="Liberation Sans, Arial, sans-serif" text-anchor="middle" fill="#111" stroke="#111" stroke-width="0.12">Hhip</text>
<path d="M534.3,173.6 V169.7 H574.4 V173.6" fill="none" stroke="#555" stroke-width="0.45"/>
<path d="M513.70,178.31 V319.49 M512.50,192.42 V234.78 M512.50,260.19 V305.38 M511.50,211.25 V286.55" fill="none" stroke="#666" stroke-width="0.45"/>
<defs><linearGradient id="cb" x1="0" y1="0" x2="0" y2="1"><stop offset="0" stop-color="#ff0000"/><stop offset="0.5" stop-color="#ffffff"/><stop offset="1" stop-color="#0000ff"/></linearGradient></defs>
<rect x="669.8" y="177" width="6.5" height="31.6" fill="url(#cb)"/>
<line x1="676.3" y1="177.3" x2="677.1" y2="177.3" stroke="#444" stroke-width="0.3"/>
<text x="677.50" y="178.50" font-size="3.3" font-family="Liberation Sans, Arial, sans-serif" text-anchor="start" fill="#111" >1</text>
<line x1="676.3" y1="185.2" x2="677.1" y2="185.2" stroke="#444" stroke-width="0.3"/>
<text x="677.50" y="186.40" font-size="3.3" font-family="Liberation Sans, Arial, sans-serif" text-anchor="start" fill="#111" >0.5</text>
<line x1="676.3" y1="192.8" x2="677.1" y2="192.8" stroke="#444" stroke-width="0.3"/>
<text x="677.50" y="194.00" font-size="3.3" font-family="Liberation Sans, Arial, sans-serif" text-anchor="start" fill="#111" >0</text>
<line x1="676.3" y1="200.7" x2="677.1" y2="200.7" stroke="#444" stroke-width="0.3"/>
<text x="677.50" y="201.90" font-size="3.3" font-family="Liberation Sans, Arial, sans-serif" text-anchor="start" fill="#111" >-0.5</text>
<line x1="676.3" y1="208.4" x2="677.1" y2="208.4" stroke="#444" stroke-width="0.3"/>
<text x="677.50" y="209.60" font-size="3.3" font-family="Liberation Sans, Arial, sans-serif" text-anchor="start" fill="#111" >-1</text>
<text x="6.30" y="371.00" font-size="13.2" font-family="Liberation Serif, Times New Roman, serif" text-anchor="start" font-weight="bold" fill="#000" >I</text>
<line x1="141.4" y1="470.2" x2="127.2" y2="481.7" stroke="#F03838" stroke-width="0.5" stroke-opacity="0.9"/>
<line x1="151.3" y1="425.3" x2="28.8" y2="407.3" stroke="#F03838" stroke-width="0.5" stroke-opacity="0.9"/>
<line x1="93.4" y1="371.3" x2="66.9" y2="377.1" stroke="#F03838" stroke-width="0.5" stroke-opacity="0.9"/>
<line x1="115.9" y1="377.2" x2="140.3" y2="396.1" stroke="#F03838" stroke-width="0.5" stroke-opacity="0.9"/>
<line x1="20.9" y1="423.2" x2="40.2" y2="478.9" stroke="#F03838" stroke-width="0.5" stroke-opacity="0.9"/>
<line x1="66.6" y1="493.8" x2="23.2" y2="449.7" stroke="#3838F0" stroke-width="0.5" stroke-opacity="0.9"/>
<line x1="98.1" y1="496.2" x2="87.6" y2="483.7" stroke="#F03838" stroke-width="0.5" stroke-opacity="0.9"/>
<line x1="127.2" y1="481.7" x2="28.8" y2="407.3" stroke="#F03838" stroke-width="0.5" stroke-opacity="0.9"/>
<line x1="66.9" y1="377.1" x2="141.4" y2="470.2" stroke="#F03838" stroke-width="0.5" stroke-opacity="0.9"/>
<line x1="40.2" y1="478.9" x2="87.6" y2="483.7" stroke="#3838F0" stroke-width="0.5" stroke-opacity="0.9"/>
<line x1="151.3" y1="425.3" x2="40.2" y2="478.9" stroke="#3838F0" stroke-width="0.5" stroke-opacity="0.9"/>
<line x1="93.4" y1="371.3" x2="127.2" y2="481.7" stroke="#F03838" stroke-width="0.5" stroke-opacity="0.9"/>
<line x1="66.9" y1="377.1" x2="42" y2="388.3" stroke="#F03838" stroke-width="0.5" stroke-opacity="0.9"/>
<line x1="140.3" y1="396.1" x2="42" y2="388.3" stroke="#F03838" stroke-width="0.5" stroke-opacity="0.9"/>
<line x1="93.4" y1="371.3" x2="98.1" y2="496.2" stroke="#F03838" stroke-width="0.5" stroke-opacity="0.9"/>
<line x1="115.9" y1="377.2" x2="98.1" y2="496.2" stroke="#F03838" stroke-width="0.5" stroke-opacity="0.9"/>
<line x1="151.3" y1="425.3" x2="141.4" y2="470.2" stroke="#3838F0" stroke-width="0.5" stroke-opacity="0.9"/>
<line x1="66.9" y1="377.1" x2="150.1" y2="445" stroke="#F03838" stroke-width="0.5" stroke-opacity="0.9"/>
<line x1="93.4" y1="371.3" x2="115.9" y2="377.2" stroke="#F03838" stroke-width="0.5" stroke-opacity="0.9"/>
<line x1="23.2" y1="449.7" x2="40.2" y2="478.9" stroke="#F03838" stroke-width="0.5" stroke-opacity="0.9"/>
<line x1="23.2" y1="449.7" x2="87.6" y2="483.7" stroke="#3838F0" stroke-width="0.5" stroke-opacity="0.9"/>
<line x1="66.6" y1="493.8" x2="151.3" y2="425.3" stroke="#3838F0" stroke-width="0.5" stroke-opacity="0.9"/>
<line x1="150.1" y1="445" x2="40.2" y2="478.9" stroke="#3838F0" stroke-width="0.5" stroke-opacity="0.9"/>
<line x1="115.9" y1="377.2" x2="20.9" y2="423.2" stroke="#F03838" stroke-width="0.5" stroke-opacity="0.9"/>
<line x1="115.9" y1="377.2" x2="23.2" y2="449.7" stroke="#F03838" stroke-width="0.5" stroke-opacity="0.9"/>
<line x1="141.4" y1="470.2" x2="23.2" y2="449.7" stroke="#F03838" stroke-width="0.5" stroke-opacity="0.9"/>
<line x1="93.4" y1="371.3" x2="20.9" y2="423.2" stroke="#F03838" stroke-width="0.5" stroke-opacity="0.9"/>
<line x1="66.9" y1="377.1" x2="140.3" y2="396.1" stroke="#F03838" stroke-width="0.5" stroke-opacity="0.9"/>
<line x1="140.3" y1="396.1" x2="28.8" y2="407.3" stroke="#F03838" stroke-width="0.5" stroke-opacity="0.9"/>
<line x1="127.2" y1="481.7" x2="98.1" y2="496.2" stroke="#F03838" stroke-width="0.5" stroke-opacity="0.9"/>
<line x1="150.1" y1="445" x2="23.2" y2="449.7" stroke="#F03838" stroke-width="0.5" stroke-opacity="0.9"/>
<line x1="66.6" y1="493.8" x2="150.1" y2="445" stroke="#3838F0" stroke-width="0.5" stroke-opacity="0.9"/>
<line x1="141.4" y1="470.2" x2="20.9" y2="423.2" stroke="#F03838" stroke-width="0.5" stroke-opacity="0.9"/>
<line x1="141.4" y1="470.2" x2="42" y2="388.3" stroke="#F03838" stroke-width="0.5" stroke-opacity="0.9"/>
<line x1="93.4" y1="371.3" x2="28.8" y2="407.3" stroke="#F03838" stroke-width="0.5" stroke-opacity="0.9"/>
<line x1="93.4" y1="371.3" x2="66.6" y2="493.8" stroke="#F03838" stroke-width="0.5" stroke-opacity="0.9"/>
<line x1="93.4" y1="371.3" x2="23.2" y2="449.7" stroke="#3838F0" stroke-width="0.5" stroke-opacity="0.9"/>
<line x1="66.6" y1="493.8" x2="20.9" y2="423.2" stroke="#3838F0" stroke-width="0.5" stroke-opacity="0.9"/>
<line x1="127.2" y1="481.7" x2="20.9" y2="423.2" stroke="#F03838" stroke-width="0.5" stroke-opacity="0.9"/>
<line x1="141.4" y1="470.2" x2="150.1" y2="445" stroke="#F03838" stroke-width="0.5" stroke-opacity="0.9"/>
<line x1="115.9" y1="377.2" x2="66.6" y2="493.8" stroke="#3838F0" stroke-width="0.5" stroke-opacity="0.9"/>
<line x1="140.3" y1="396.1" x2="141.4" y2="470.2" stroke="#3838F0" stroke-width="0.5" stroke-opacity="0.9"/>
<line x1="115.9" y1="377.2" x2="150.1" y2="445" stroke="#F03838" stroke-width="0.5" stroke-opacity="0.9"/>
<line x1="93.4" y1="371.3" x2="140.3" y2="396.1" stroke="#3838F0" stroke-width="0.5" stroke-opacity="0.9"/>
<line x1="66.9" y1="377.1" x2="98.1" y2="496.2" stroke="#F03838" stroke-width="0.5" stroke-opacity="0.9"/>
<line x1="40.2" y1="478.9" x2="127.2" y2="481.7" stroke="#3838F0" stroke-width="0.5" stroke-opacity="0.9"/>
<line x1="42" y1="388.3" x2="150.1" y2="445" stroke="#F03838" stroke-width="0.5" stroke-opacity="0.9"/>
<line x1="140.3" y1="396.1" x2="23.2" y2="449.7" stroke="#F03838" stroke-width="0.5" stroke-opacity="0.9"/>
<line x1="66.9" y1="377.1" x2="127.2" y2="481.7" stroke="#F03838" stroke-width="0.5" stroke-opacity="0.9"/>
<line x1="140.3" y1="396.1" x2="40.2" y2="478.9" stroke="#F03838" stroke-width="0.5" stroke-opacity="0.9"/>
<line x1="127.2" y1="481.7" x2="23.2" y2="449.7" stroke="#F03838" stroke-width="0.5" stroke-opacity="0.9"/>
<line x1="93.4" y1="371.3" x2="141.4" y2="470.2" stroke="#F03838" stroke-width="0.5" stroke-opacity="0.9"/>
<line x1="140.3" y1="396.1" x2="20.9" y2="423.2" stroke="#F03838" stroke-width="0.5" stroke-opacity="0.9"/>
<line x1="93.4" y1="371.3" x2="40.2" y2="478.9" stroke="#3838F0" stroke-width="0.5" stroke-opacity="0.9"/>
<line x1="140.3" y1="396.1" x2="151.3" y2="425.3" stroke="#F03838" stroke-width="0.5" stroke-opacity="0.9"/>
<line x1="66.9" y1="377.1" x2="151.3" y2="425.3" stroke="#F03838" stroke-width="0.5" stroke-opacity="0.9"/>
<line x1="141.4" y1="470.2" x2="69.6" y2="472.2" stroke="#F03838" stroke-width="0.5" stroke-opacity="0.9"/>
<line x1="141.4" y1="470.2" x2="28.8" y2="407.3" stroke="#F03838" stroke-width="0.5" stroke-opacity="0.9"/>
<line x1="115.9" y1="377.2" x2="127.2" y2="481.7" stroke="#F03838" stroke-width="0.5" stroke-opacity="0.9"/>
<line x1="140.3" y1="396.1" x2="127.2" y2="481.7" stroke="#3838F0" stroke-width="0.5" stroke-opacity="0.9"/>
<line x1="40.2" y1="478.9" x2="66.6" y2="493.8" stroke="#3838F0" stroke-width="0.5" stroke-opacity="0.9"/>
<line x1="93.4" y1="371.3" x2="42" y2="388.3" stroke="#F03838" stroke-width="0.5" stroke-opacity="0.9"/>
<line x1="93.4" y1="371.3" x2="87.6" y2="483.7" stroke="#F03838" stroke-width="0.5" stroke-opacity="0.9"/>
<line x1="40.2" y1="478.9" x2="141.4" y2="470.2" stroke="#3838F0" stroke-width="0.5" stroke-opacity="0.9"/>
<line x1="98.1" y1="496.2" x2="69.6" y2="472.2" stroke="#F03838" stroke-width="0.5" stroke-opacity="0.9"/>
<line x1="150.1" y1="445" x2="151.3" y2="425.3" stroke="#F03838" stroke-width="0.5" stroke-opacity="0.9"/>
<line x1="98.1" y1="496.2" x2="23.2" y2="449.7" stroke="#F03838" stroke-width="0.5" stroke-opacity="0.9"/>
<line x1="93.4" y1="371.3" x2="151.3" y2="425.3" stroke="#F03838" stroke-width="0.5" stroke-opacity="0.9"/>
<line x1="93.4" y1="371.3" x2="150.1" y2="445" stroke="#F03838" stroke-width="0.5" stroke-opacity="0.9"/>
<line x1="127.2" y1="481.7" x2="69.6" y2="472.2" stroke="#F03838" stroke-width="0.5" stroke-opacity="0.9"/>
<line x1="69.6" y1="472.2" x2="40.2" y2="478.9" stroke="#F03838" stroke-width="0.5" stroke-opacity="0.9"/>
<line x1="150.1" y1="445" x2="69.6" y2="472.2" stroke="#F03838" stroke-width="0.5" stroke-opacity="0.9"/>
<line x1="23.2" y1="449.7" x2="20.9" y2="423.2" stroke="#F03838" stroke-width="0.5" stroke-opacity="0.9"/>
<line x1="150.1" y1="445" x2="20.9" y2="423.2" stroke="#F03838" stroke-width="0.5" stroke-opacity="0.9"/>
<circle cx="93.40" cy="371.30" r="3.0" fill="#E03C2D"/>
<circle cx="115.90" cy="377.20" r="2.5" fill="#E03C2D"/>
<circle cx="140.30" cy="396.10" r="3.0" fill="#E03C2D"/>
<circle cx="151.30" cy="425.30" r="2.5" fill="#E03C2D"/>
<circle cx="150.10" cy="445.00" r="2.5" fill="#E03C2D"/>
<polygon points="141.40,467.10 138.40,472.26 144.40,472.26" fill="#3BAFC8"/>
<circle cx="127.20" cy="481.70" r="3.0" fill="#E03C2D"/>
<circle cx="98.10" cy="496.20" r="2.0" fill="#E03C2D"/>
<circle cx="87.60" cy="483.70" r="1.8" fill="#E03C2D"/>
<circle cx="66.60" cy="493.80" r="2.7" fill="#E03C2D"/>
<circle cx="69.60" cy="472.20" r="1.9" fill="#E03C2D"/>
<circle cx="40.20" cy="478.90" r="3.0" fill="#E03C2D"/>
<circle cx="23.20" cy="449.70" r="2.7" fill="#E03C2D"/>
<circle cx="20.90" cy="423.20" r="2.7" fill="#E03C2D"/>
<circle cx="28.80" cy="407.30" r="2.5" fill="#E03C2D"/>
<circle cx="42.00" cy="388.30" r="2.5" fill="#E03C2D"/>
<polygon points="66.90,374.00 63.90,379.16 69.90,379.16" fill="#3BAFC8"/>
<rect x="75" y="359.8" width="67.70" height="7.20" fill="#ffffff" fill-opacity="0.95" stroke="#808080" stroke-width="0.45" rx="0.5"/>
<text x="108.85" y="365.30" font-size="6.5" font-family="Liberation Sans, Arial, sans-serif" text-anchor="middle" fill="#111" stroke="#111" stroke-width="0.1">Riboflavin (Vitamin B2)</text>
<rect x="17" y="391.7" width="30.20" height="7.40" fill="#ffffff" fill-opacity="0.95" stroke="#808080" stroke-width="0.45" rx="0.5"/>
<text x="32.10" y="397.30" font-size="6.5" font-family="Liberation Sans, Arial, sans-serif" text-anchor="middle" fill="#111" stroke="#111" stroke-width="0.1">Riboflavin</text>
<rect x="113.5" y="400.4" width="50.30" height="7.60" fill="#ffffff" fill-opacity="0.95" stroke="#808080" stroke-width="0.45" rx="0.5"/>
<text x="138.65" y="406.10" font-size="6.5" font-family="Liberation Sans, Arial, sans-serif" text-anchor="middle" fill="#111" stroke="#111" stroke-width="0.1">LysoPC(18:0/0:0)</text>
<rect x="117.3" y="422.1" width="29.60" height="7.10" fill="#ffffff" fill-opacity="0.95" stroke="#808080" stroke-width="0.45" rx="0.5"/>
<text x="132.10" y="427.55" font-size="6.5" font-family="Liberation Sans, Arial, sans-serif" text-anchor="middle" fill="#111" stroke="#111" stroke-width="0.1">2-LysoPC</text>
<rect x="1.3" y="428.9" width="56.70" height="7.10" fill="#ffffff" fill-opacity="0.95" stroke="#808080" stroke-width="0.45" rx="0.5"/>
<text x="29.65" y="434.35" font-size="6.5" font-family="Liberation Sans, Arial, sans-serif" text-anchor="middle" fill="#111" stroke="#111" stroke-width="0.1">PA(PGF1alpha/2:0)</text>
<rect x="4.7" y="453.8" width="38.60" height="7.40" fill="#ffffff" fill-opacity="0.95" stroke="#808080" stroke-width="0.45" rx="0.5"/>
<text x="24.00" y="459.40" font-size="6.5" font-family="Liberation Sans, Arial, sans-serif" text-anchor="middle" fill="#111" stroke="#111" stroke-width="0.1">PC(18:0/0:0)</text>
<rect x="104.4" y="485.3" width="54.80" height="7.40" fill="#ffffff" fill-opacity="0.95" stroke="#808080" stroke-width="0.45" rx="0.5"/>
<text x="131.80" y="490.90" font-size="6.5" font-family="Liberation Sans, Arial, sans-serif" text-anchor="middle" fill="#111" stroke="#111" stroke-width="0.1">PC(14:1(9Z)/20:0)</text>
<rect x="74" y="499.3" width="49.30" height="7.20" fill="#ffffff" fill-opacity="0.95" stroke="#808080" stroke-width="0.45" rx="0.5"/>
<text x="98.65" y="504.80" font-size="6.5" font-family="Liberation Sans, Arial, sans-serif" text-anchor="middle" fill="#111" stroke="#111" stroke-width="0.1">Pantothenic Acid</text>
<text x="59.50" y="372.80" font-size="6.4" font-family="Liberation Sans, Arial, sans-serif" text-anchor="middle" fill="#111" stroke="#111" stroke-width="0.1">Cd3e</text>
<text x="143.50" y="479.30" font-size="6.4" font-family="Liberation Sans, Arial, sans-serif" text-anchor="middle" fill="#111" stroke="#111" stroke-width="0.1">Cd3g</text>
<text x="169.20" y="371.30" font-size="13.2" font-family="Liberation Serif, Times New Roman, serif" text-anchor="start" font-weight="bold" fill="#000" >J</text>
<line x1="231.1" y1="375.2" x2="212.6" y2="386.5" stroke="#F03838" stroke-width="0.5" stroke-opacity="0.9"/>
<line x1="295.7" y1="482.2" x2="269.9" y2="492.4" stroke="#F03838" stroke-width="0.5" stroke-opacity="0.9"/>
<line x1="212.6" y1="386.5" x2="269.9" y2="492.4" stroke="#F03838" stroke-width="0.5" stroke-opacity="0.9"/>
<line x1="212.6" y1="386.5" x2="200" y2="400.1" stroke="#F03838" stroke-width="0.5" stroke-opacity="0.9"/>
<line x1="295.7" y1="482.2" x2="190.5" y2="452.9" stroke="#3838F0" stroke-width="0.5" stroke-opacity="0.9"/>
<line x1="314.3" y1="452.2" x2="227.2" y2="489.9" stroke="#F03838" stroke-width="0.5" stroke-opacity="0.9"/>
<line x1="189.4" y1="427.5" x2="314.3" y2="452.2" stroke="#3838F0" stroke-width="0.5" stroke-opacity="0.9"/>
<line x1="231.1" y1="375.2" x2="304.4" y2="403.1" stroke="#3838F0" stroke-width="0.5" stroke-opacity="0.9"/>
<line x1="189.4" y1="427.5" x2="295.7" y2="482.2" stroke="#F03838" stroke-width="0.5" stroke-opacity="0.9"/>
<line x1="227.2" y1="489.9" x2="190.5" y2="452.9" stroke="#F03838" stroke-width="0.5" stroke-opacity="0.9"/>
<line x1="192.1" y1="415.4" x2="295.7" y2="482.2" stroke="#F03838" stroke-width="0.5" stroke-opacity="0.9"/>
<line x1="295.7" y1="482.2" x2="251.6" y2="494.3" stroke="#F03838" stroke-width="0.5" stroke-opacity="0.9"/>
<line x1="259.5" y1="373.1" x2="269.9" y2="492.4" stroke="#F03838" stroke-width="0.5" stroke-opacity="0.9"/>
<line x1="200" y1="400.1" x2="295.7" y2="482.2" stroke="#F03838" stroke-width="0.5" stroke-opacity="0.9"/>
<line x1="259.5" y1="373.1" x2="212.6" y2="386.5" stroke="#F03838" stroke-width="0.5" stroke-opacity="0.9"/>
<line x1="231.1" y1="375.2" x2="227.2" y2="489.9" stroke="#3838F0" stroke-width="0.5" stroke-opacity="0.9"/>
<line x1="280.4" y1="378.8" x2="314.3" y2="452.2" stroke="#F03838" stroke-width="0.5" stroke-opacity="0.9"/>
<line x1="309.6" y1="467.8" x2="259.5" y2="373.1" stroke="#F03838" stroke-width="0.5" stroke-opacity="0.9"/>
<line x1="315.4" y1="438.4" x2="313" y2="418.8" stroke="#3838F0" stroke-width="0.5" stroke-opacity="0.9"/>
<line x1="269.9" y1="492.4" x2="190.5" y2="452.9" stroke="#3838F0" stroke-width="0.5" stroke-opacity="0.9"/>
<line x1="231.1" y1="375.2" x2="190.5" y2="452.9" stroke="#3838F0" stroke-width="0.5" stroke-opacity="0.9"/>
<line x1="189.4" y1="427.5" x2="204.8" y2="476.5" stroke="#3838F0" stroke-width="0.5" stroke-opacity="0.9"/>
<line x1="309.6" y1="467.8" x2="295.7" y2="482.2" stroke="#F03838" stroke-width="0.5" stroke-opacity="0.9"/>
<line x1="309.6" y1="467.8" x2="204.8" y2="476.5" stroke="#3838F0" stroke-width="0.5" stroke-opacity="0.9"/>
<line x1="280.4" y1="378.8" x2="304.4" y2="403.1" stroke="#F03838" stroke-width="0.5" stroke-opacity="0.9"/>
<line x1="231.1" y1="375.2" x2="295.7" y2="482.2" stroke="#F03838" stroke-width="0.5" stroke-opacity="0.9"/>
<line x1="304.4" y1="403.1" x2="204.8" y2="476.5" stroke="#F03838" stroke-width="0.5" stroke-opacity="0.9"/>
<line x1="231.1" y1="375.2" x2="314.3" y2="452.2" stroke="#3838F0" stroke-width="0.5" stroke-opacity="0.9"/>
<line x1="259.5" y1="373.1" x2="304.4" y2="403.1" stroke="#3838F0" stroke-width="0.5" stroke-opacity="0.9"/>
<line x1="259.5" y1="373.1" x2="190.5" y2="452.9" stroke="#3838F0" stroke-width="0.5" stroke-opacity="0.9"/>
<line x1="280.4" y1="378.8" x2="190.5" y2="452.9" stroke="#F03838" stroke-width="0.5" stroke-opacity="0.9"/>
<line x1="189.4" y1="427.5" x2="269.9" y2="492.4" stroke="#F03838" stroke-width="0.5" stroke-opacity="0.9"/>
<line x1="189.4" y1="427.5" x2="313" y2="418.8" stroke="#3838F0" stroke-width="0.5" stroke-opacity="0.9"/>
<line x1="295.7" y1="482.2" x2="304.4" y2="403.1" stroke="#3838F0" stroke-width="0.5" stroke-opacity="0.9"/>
<line x1="314.3" y1="452.2" x2="204.8" y2="476.5" stroke="#F03838" stroke-width="0.5" stroke-opacity="0.9"/>
<line x1="231.1" y1="375.2" x2="204.8" y2="476.5" stroke="#3838F0" stroke-width="0.5" stroke-opacity="0.9"/>
<line x1="280.4" y1="378.8" x2="204.8" y2="476.5" stroke="#F03838" stroke-width="0.5" stroke-opacity="0.9"/>
<line x1="280.4" y1="378.8" x2="313" y2="418.8" stroke="#F03838" stroke-width="0.5" stroke-opacity="0.9"/>
<line x1="231.1" y1="375.2" x2="251.6" y2="494.3" stroke="#F03838" stroke-width="0.5" stroke-opacity="0.9"/>
<line x1="295.7" y1="482.2" x2="204.8" y2="476.5" stroke="#3838F0" stroke-width="0.5" stroke-opacity="0.9"/>
<line x1="259.5" y1="373.1" x2="314.3" y2="452.2" stroke="#3838F0" stroke-width="0.5" stroke-opacity="0.9"/>
<line x1="309.6" y1="467.8" x2="315.4" y2="438.4" stroke="#F03838" stroke-width="0.5" stroke-opacity="0.9"/>
<line x1="231.1" y1="375.2" x2="259.5" y2="373.1" stroke="#F03838" stroke-width="0.5" stroke-opacity="0.9"/>
<line x1="309.6" y1="467.8" x2="313" y2="418.8" stroke="#3838F0" stroke-width="0.5" stroke-opacity="0.9"/>
<line x1="200" y1="400.1" x2="192.1" y2="415.4" stroke="#F03838" stroke-width="0.5" stroke-opacity="0.9"/>
<line x1="295.7" y1="482.2" x2="227.2" y2="489.9" stroke="#3838F0" stroke-width="0.5" stroke-opacity="0.9"/>
<line x1="304.4" y1="403.1" x2="314.3" y2="452.2" stroke="#F03838" stroke-width="0.5" stroke-opacity="0.9"/>
<line x1="309.6" y1="467.8" x2="227.2" y2="489.9" stroke="#3838F0" stroke-width="0.5" stroke-opacity="0.9"/>
<line x1="309.6" y1="467.8" x2="314.3" y2="452.2" stroke="#3838F0" stroke-width="0.5" stroke-opacity="0.9"/>
<line x1="192.1" y1="415.4" x2="269.9" y2="492.4" stroke="#F03838" stroke-width="0.5" stroke-opacity="0.9"/>
<line x1="189.4" y1="427.5" x2="259.5" y2="373.1" stroke="#F03838" stroke-width="0.5" stroke-opacity="0.9"/>
<line x1="251.6" y1="494.3" x2="190.5" y2="452.9" stroke="#3838F0" stroke-width="0.5" stroke-opacity="0.9"/>
<line x1="304.4" y1="403.1" x2="313" y2="418.8" stroke="#F03838" stroke-width="0.5" stroke-opacity="0.9"/>
<line x1="313" y1="418.8" x2="314.3" y2="452.2" stroke="#F03838" stroke-width="0.5" stroke-opacity="0.9"/>
<line x1="269.9" y1="492.4" x2="227.2" y2="489.9" stroke="#3838F0" stroke-width="0.5" stroke-opacity="0.9"/>
<line x1="212.6" y1="386.5" x2="304.4" y2="403.1" stroke="#3838F0" stroke-width="0.5" stroke-opacity="0.9"/>
<line x1="227.2" y1="489.9" x2="204.8" y2="476.5" stroke="#F03838" stroke-width="0.5" stroke-opacity="0.9"/>
<line x1="189.4" y1="427.5" x2="192.1" y2="415.4" stroke="#F03838" stroke-width="0.5" stroke-opacity="0.9"/>
<line x1="304.4" y1="403.1" x2="190.5" y2="452.9" stroke="#F03838" stroke-width="0.5" stroke-opacity="0.9"/>
<line x1="314.3" y1="452.2" x2="190.5" y2="452.9" stroke="#F03838" stroke-width="0.5" stroke-opacity="0.9"/>
<line x1="189.4" y1="427.5" x2="227.2" y2="489.9" stroke="#3838F0" stroke-width="0.5" stroke-opacity="0.9"/>
<line x1="259.5" y1="373.1" x2="251.6" y2="494.3" stroke="#F03838" stroke-width="0.5" stroke-opacity="0.9"/>
<line x1="212.6" y1="386.5" x2="295.7" y2="482.2" stroke="#F03838" stroke-width="0.5" stroke-opacity="0.9"/>
<line x1="259.5" y1="373.1" x2="295.7" y2="482.2" stroke="#F03838" stroke-width="0.5" stroke-opacity="0.9"/>
<line x1="231.1" y1="375.2" x2="313" y2="418.8" stroke="#3838F0" stroke-width="0.5" stroke-opacity="0.9"/>
<line x1="313" y1="418.8" x2="204.8" y2="476.5" stroke="#F03838" stroke-width="0.5" stroke-opacity="0.9"/>
<line x1="259.5" y1="373.1" x2="200" y2="400.1" stroke="#F03838" stroke-width="0.5" stroke-opacity="0.9"/>
<line x1="231.1" y1="375.2" x2="280.4" y2="378.8" stroke="#3838F0" stroke-width="0.5" stroke-opacity="0.9"/>
<line x1="204.8" y1="476.5" x2="190.5" y2="452.9" stroke="#F03838" stroke-width="0.5" stroke-opacity="0.9"/>
<line x1="304.4" y1="403.1" x2="227.2" y2="489.9" stroke="#F03838" stroke-width="0.5" stroke-opacity="0.9"/>
<line x1="269.9" y1="492.4" x2="251.6" y2="494.3" stroke="#F03838" stroke-width="0.5" stroke-opacity="0.9"/>
<line x1="269.9" y1="492.4" x2="204.8" y2="476.5" stroke="#3838F0" stroke-width="0.5" stroke-opacity="0.9"/>
<line x1="189.4" y1="427.5" x2="304.4" y2="403.1" stroke="#3838F0" stroke-width="0.5" stroke-opacity="0.9"/>
<line x1="251.6" y1="494.3" x2="204.8" y2="476.5" stroke="#3838F0" stroke-width="0.5" stroke-opacity="0.9"/>
<line x1="231.1" y1="375.2" x2="269.9" y2="492.4" stroke="#F03838" stroke-width="0.5" stroke-opacity="0.9"/>
<line x1="259.5" y1="373.1" x2="227.2" y2="489.9" stroke="#3838F0" stroke-width="0.5" stroke-opacity="0.9"/>
<line x1="309.6" y1="467.8" x2="251.6" y2="494.3" stroke="#F03838" stroke-width="0.5" stroke-opacity="0.9"/>
<line x1="259.5" y1="373.1" x2="192.1" y2="415.4" stroke="#F03838" stroke-width="0.5" stroke-opacity="0.9"/>
<line x1="200" y1="400.1" x2="269.9" y2="492.4" stroke="#F03838" stroke-width="0.5" stroke-opacity="0.9"/>
<line x1="259.5" y1="373.1" x2="204.8" y2="476.5" stroke="#3838F0" stroke-width="0.5" stroke-opacity="0.9"/>
<polygon points="231.10,371.20 227.22,377.87 234.97,377.87" fill="#3BAFC8"/>
<circle cx="259.50" cy="373.10" r="3.0" fill="#E03C2D"/>
<circle cx="280.40" cy="378.80" r="2.7" fill="#E03C2D"/>
<circle cx="304.40" cy="403.10" r="3.0" fill="#E03C2D"/>
<circle cx="313.00" cy="418.80" r="2.3" fill="#E03C2D"/>
<circle cx="315.40" cy="438.40" r="1.7" fill="#E03C2D"/>
<circle cx="314.30" cy="452.20" r="3.0" fill="#E03C2D"/>
<polygon points="309.60,464.06 305.98,470.29 313.23,470.29" fill="#3BAFC8"/>
<circle cx="295.70" cy="482.20" r="2.8" fill="#E03C2D"/>
<circle cx="269.90" cy="492.40" r="2.3" fill="#E03C2D"/>
<circle cx="251.60" cy="494.30" r="3.0" fill="#E03C2D"/>
<circle cx="227.20" cy="489.90" r="3.0" fill="#E03C2D"/>
<circle cx="204.80" cy="476.50" r="3.0" fill="#E03C2D"/>
<circle cx="190.50" cy="452.90" r="2.7" fill="#E03C2D"/>
<polygon points="189.40,423.63 185.65,430.08 193.15,430.08" fill="#3BAFC8"/>
<circle cx="192.10" cy="415.40" r="2.6" fill="#E03C2D"/>
<circle cx="200.00" cy="400.10" r="2.4" fill="#E03C2D"/>
<circle cx="212.60" cy="386.50" r="2.4" fill="#E03C2D"/>
<rect x="245.8" y="362.6" width="67.20" height="7.40" fill="#ffffff" fill-opacity="0.95" stroke="#808080" stroke-width="0.45" rx="0.5"/>
<text x="279.40" y="368.20" font-size="6.5" font-family="Liberation Sans, Arial, sans-serif" text-anchor="middle" fill="#111" stroke="#111" stroke-width="0.1">Riboflavin (Vitamin B2)</text>
<rect x="186.3" y="375.2" width="29.90" height="7.60" fill="#ffffff" fill-opacity="0.95" stroke="#808080" stroke-width="0.45" rx="0.5"/>
<text x="201.25" y="380.90" font-size="6.5" font-family="Liberation Sans, Arial, sans-serif" text-anchor="middle" fill="#111" stroke="#111" stroke-width="0.1">Riboflavin</text>
<rect x="273.3" y="391.4" width="50.90" height="7.40" fill="#ffffff" fill-opacity="0.95" stroke="#808080" stroke-width="0.45" rx="0.5"/>
<text x="298.75" y="397.00" font-size="6.5" font-family="Liberation Sans, Arial, sans-serif" text-anchor="middle" fill="#111" stroke="#111" stroke-width="0.1">LysoPC(18:0/0:0)</text>
<rect x="277.8" y="447.5" width="29.90" height="7.40" fill="#ffffff" fill-opacity="0.95" stroke="#808080" stroke-width="0.45" rx="0.5"/>
<text x="292.75" y="453.10" font-size="6.5" font-family="Liberation Sans, Arial, sans-serif" text-anchor="middle" fill="#111" stroke="#111" stroke-width="0.1">2-LysoPC</text>
<rect x="178.4" y="458.1" width="56.70" height="7.40" fill="#ffffff" fill-opacity="0.95" stroke="#808080" stroke-width="0.45" rx="0.5"/>
<text x="206.75" y="463.70" font-size="6.5" font-family="Liberation Sans, Arial, sans-serif" text-anchor="middle" fill="#111" stroke="#111" stroke-width="0.1">PA(PGF1alpha/2:0)</text>
<rect x="245.2" y="469.1" width="52.60" height="7.60" fill="#ffffff" fill-opacity="0.95" stroke="#808080" stroke-width="0.45" rx="0.5"/>
<text x="271.50" y="474.80" font-size="6.5" font-family="Liberation Sans, Arial, sans-serif" text-anchor="middle" fill="#111" stroke="#111" stroke-width="0.1">PC(14:1(9Z)/20:0)</text>
<rect x="185.9" y="480.4" width="38.20" height="7.60" fill="#ffffff" fill-opacity="0.95" stroke="#808080" stroke-width="0.45" rx="0.5"/>
<text x="205.00" y="486.10" font-size="6.5" font-family="Liberation Sans, Arial, sans-serif" text-anchor="middle" fill="#111" stroke="#111" stroke-width="0.1">PC(18:0/0:0)</text>
<rect x="260.3" y="495.1" width="49.60" height="7.40" fill="#ffffff" fill-opacity="0.95" stroke="#808080" stroke-width="0.45" rx="0.5"/>
<text x="285.10" y="500.70" font-size="6.5" font-family="Liberation Sans, Arial, sans-serif" text-anchor="middle" fill="#111" stroke="#111" stroke-width="0.1">Pantothenic Acid</text>
<text x="230.40" y="370.10" font-size="6.4" font-family="Liberation Sans, Arial, sans-serif" text-anchor="middle" fill="#111" stroke="#111" stroke-width="0.1">Cx3cr1</text>
<text x="177.60" y="425.10" font-size="6.4" font-family="Liberation Sans, Arial, sans-serif" text-anchor="middle" fill="#111" stroke="#111" stroke-width="0.1">Cxcl14</text>
<text x="311.50" y="476.90" font-size="6.4" font-family="Liberation Sans, Arial, sans-serif" text-anchor="middle" fill="#111" stroke="#111" stroke-width="0.1">Ccl5</text>
<text x="334.30" y="371.00" font-size="13.2" font-family="Liberation Serif, Times New Roman, serif" text-anchor="start" font-weight="bold" fill="#000" >K</text>
<line x1="482.9" y1="440.7" x2="382" y2="488" stroke="#F03838" stroke-width="0.5" stroke-opacity="0.9"/>
<line x1="366.5" y1="392.2" x2="431.3" y2="436.8" stroke="#F03838" stroke-width="0.5" stroke-opacity="0.9"/>
<line x1="366.5" y1="392.2" x2="358.8" y2="464.8" stroke="#3838F0" stroke-width="0.5" stroke-opacity="0.9"/>
<line x1="469.8" y1="405.4" x2="382" y2="488" stroke="#3838F0" stroke-width="0.5" stroke-opacity="0.9"/>
<line x1="354.4" y1="445" x2="382" y2="488" stroke="#F03838" stroke-width="0.5" stroke-opacity="0.9"/>
<line x1="382" y1="488" x2="358.8" y2="464.8" stroke="#F03838" stroke-width="0.5" stroke-opacity="0.9"/>
<line x1="469.8" y1="405.4" x2="358.7" y2="416.5" stroke="#F03838" stroke-width="0.5" stroke-opacity="0.9"/>
<line x1="354.4" y1="445" x2="469.8" y2="405.4" stroke="#3838F0" stroke-width="0.5" stroke-opacity="0.9"/>
<line x1="469.8" y1="405.4" x2="416.8" y2="494.8" stroke="#3838F0" stroke-width="0.5" stroke-opacity="0.9"/>
<line x1="395" y1="377.2" x2="466.2" y2="390.2" stroke="#F03838" stroke-width="0.5" stroke-opacity="0.9"/>
<line x1="354.4" y1="445" x2="452" y2="488.8" stroke="#F03838" stroke-width="0.5" stroke-opacity="0.9"/>
<line x1="452" y1="488.8" x2="416.8" y2="494.8" stroke="#F03838" stroke-width="0.5" stroke-opacity="0.9"/>
<line x1="366.5" y1="392.2" x2="480.9" y2="417.4" stroke="#F03838" stroke-width="0.5" stroke-opacity="0.9"/>
<line x1="452" y1="488.8" x2="382" y2="488" stroke="#F03838" stroke-width="0.5" stroke-opacity="0.9"/>
<line x1="391.2" y1="427.5" x2="382" y2="488" stroke="#F03838" stroke-width="0.5" stroke-opacity="0.9"/>
<line x1="471.4" y1="470.7" x2="423.7" y2="468.6" stroke="#F03838" stroke-width="0.5" stroke-opacity="0.9"/>
<line x1="366.5" y1="392.2" x2="471.4" y2="470.7" stroke="#3838F0" stroke-width="0.5" stroke-opacity="0.9"/>
<line x1="354.4" y1="445" x2="482.9" y2="440.7" stroke="#F03838" stroke-width="0.5" stroke-opacity="0.9"/>
<line x1="395" y1="377.2" x2="480.9" y2="417.4" stroke="#F03838" stroke-width="0.5" stroke-opacity="0.9"/>
<line x1="391.2" y1="427.5" x2="395" y2="377.2" stroke="#F03838" stroke-width="0.5" stroke-opacity="0.9"/>
<line x1="482.9" y1="440.7" x2="423.7" y2="468.6" stroke="#F03838" stroke-width="0.5" stroke-opacity="0.9"/>
<line x1="354.4" y1="445" x2="416.8" y2="494.8" stroke="#F03838" stroke-width="0.5" stroke-opacity="0.9"/>
<line x1="366.5" y1="392.2" x2="482.9" y2="440.7" stroke="#3838F0" stroke-width="0.5" stroke-opacity="0.9"/>
<line x1="416.8" y1="494.8" x2="358.8" y2="464.8" stroke="#F03838" stroke-width="0.5" stroke-opacity="0.9"/>
<line x1="482.9" y1="440.7" x2="358.7" y2="416.5" stroke="#3838F0" stroke-width="0.5" stroke-opacity="0.9"/>
<line x1="466.2" y1="390.2" x2="480.9" y2="417.4" stroke="#F03838" stroke-width="0.5" stroke-opacity="0.9"/>
<line x1="395" y1="377.2" x2="469.8" y2="405.4" stroke="#F03838" stroke-width="0.5" stroke-opacity="0.9"/>
<line x1="471.4" y1="470.7" x2="416.8" y2="494.8" stroke="#F03838" stroke-width="0.5" stroke-opacity="0.9"/>
<line x1="395" y1="377.2" x2="431.6" y2="374.4" stroke="#F03838" stroke-width="0.5" stroke-opacity="0.9"/>
<line x1="469.8" y1="405.4" x2="471.4" y2="470.7" stroke="#3838F0" stroke-width="0.5" stroke-opacity="0.9"/>
<line x1="431.6" y1="374.4" x2="466.2" y2="390.2" stroke="#F03838" stroke-width="0.5" stroke-opacity="0.9"/>
<line x1="395" y1="377.2" x2="416.8" y2="494.8" stroke="#3838F0" stroke-width="0.5" stroke-opacity="0.9"/>
<line x1="366.5" y1="392.2" x2="416.8" y2="494.8" stroke="#3838F0" stroke-width="0.5" stroke-opacity="0.9"/>
<line x1="354.4" y1="445" x2="480.9" y2="417.4" stroke="#3838F0" stroke-width="0.5" stroke-opacity="0.9"/>
<line x1="354.4" y1="445" x2="353.1" y2="424.5" stroke="#F03838" stroke-width="0.5" stroke-opacity="0.9"/>
<line x1="366.5" y1="392.2" x2="466.2" y2="390.2" stroke="#F03838" stroke-width="0.5" stroke-opacity="0.9"/>
<line x1="354.4" y1="445" x2="358.8" y2="464.8" stroke="#F03838" stroke-width="0.5" stroke-opacity="0.9"/>
<line x1="466.2" y1="390.2" x2="469.8" y2="405.4" stroke="#F03838" stroke-width="0.5" stroke-opacity="0.9"/>
<line x1="480.9" y1="417.4" x2="452" y2="488.8" stroke="#3838F0" stroke-width="0.5" stroke-opacity="0.9"/>
<line x1="466.2" y1="390.2" x2="358.7" y2="416.5" stroke="#F03838" stroke-width="0.5" stroke-opacity="0.9"/>
<line x1="452" y1="488.8" x2="423.7" y2="468.6" stroke="#F03838" stroke-width="0.5" stroke-opacity="0.9"/>
<line x1="366.5" y1="392.2" x2="431.6" y2="374.4" stroke="#F03838" stroke-width="0.5" stroke-opacity="0.9"/>
<line x1="431.3" y1="436.8" x2="358.7" y2="416.5" stroke="#F03838" stroke-width="0.5" stroke-opacity="0.9"/>
<line x1="391.2" y1="427.5" x2="482.9" y2="440.7" stroke="#F03838" stroke-width="0.5" stroke-opacity="0.9"/>
<line x1="395" y1="377.2" x2="358.7" y2="416.5" stroke="#F03838" stroke-width="0.5" stroke-opacity="0.9"/>
<line x1="452" y1="488.8" x2="431.3" y2="436.8" stroke="#3838F0" stroke-width="0.5" stroke-opacity="0.9"/>
<line x1="431.6" y1="374.4" x2="469.8" y2="405.4" stroke="#F03838" stroke-width="0.5" stroke-opacity="0.9"/>
<line x1="395" y1="377.2" x2="353.1" y2="424.5" stroke="#F03838" stroke-width="0.5" stroke-opacity="0.9"/>
<line x1="366.5" y1="392.2" x2="469.8" y2="405.4" stroke="#F03838" stroke-width="0.5" stroke-opacity="0.9"/>
<line x1="480.9" y1="417.4" x2="353.1" y2="424.5" stroke="#F03838" stroke-width="0.5" stroke-opacity="0.9"/>
<line x1="480.9" y1="417.4" x2="382" y2="488" stroke="#3838F0" stroke-width="0.5" stroke-opacity="0.9"/>
<line x1="431.6" y1="374.4" x2="480.9" y2="417.4" stroke="#F03838" stroke-width="0.5" stroke-opacity="0.9"/>
<line x1="482.9" y1="440.7" x2="416.8" y2="494.8" stroke="#F03838" stroke-width="0.5" stroke-opacity="0.9"/>
<line x1="452" y1="488.8" x2="358.8" y2="464.8" stroke="#F03838" stroke-width="0.5" stroke-opacity="0.9"/>
<line x1="395" y1="377.2" x2="382" y2="488" stroke="#3838F0" stroke-width="0.5" stroke-opacity="0.9"/>
<line x1="482.9" y1="440.7" x2="431.3" y2="436.8" stroke="#3838F0" stroke-width="0.5" stroke-opacity="0.9"/>
<line x1="391.2" y1="427.5" x2="452" y2="488.8" stroke="#3838F0" stroke-width="0.5" stroke-opacity="0.9"/>
<line x1="469.8" y1="405.4" x2="480.9" y2="417.4" stroke="#F03838" stroke-width="0.5" stroke-opacity="0.9"/>
<line x1="431.6" y1="374.4" x2="358.7" y2="416.5" stroke="#F03838" stroke-width="0.5" stroke-opacity="0.9"/>
<line x1="354.4" y1="445" x2="431.3" y2="436.8" stroke="#3838F0" stroke-width="0.5" stroke-opacity="0.9"/>
<line x1="482.9" y1="440.7" x2="452" y2="488.8" stroke="#F03838" stroke-width="0.5" stroke-opacity="0.9"/>
<line x1="452" y1="488.8" x2="353.1" y2="424.5" stroke="#3838F0" stroke-width="0.5" stroke-opacity="0.9"/>
<line x1="395" y1="377.2" x2="431.3" y2="436.8" stroke="#F03838" stroke-width="0.5" stroke-opacity="0.9"/>
<line x1="366.5" y1="392.2" x2="452" y2="488.8" stroke="#3838F0" stroke-width="0.5" stroke-opacity="0.9"/>
<line x1="480.9" y1="417.4" x2="358.7" y2="416.5" stroke="#F03838" stroke-width="0.5" stroke-opacity="0.9"/>
<line x1="382" y1="488" x2="423.7" y2="468.6" stroke="#F03838" stroke-width="0.5" stroke-opacity="0.9"/>
<line x1="366.5" y1="392.2" x2="395" y2="377.2" stroke="#3838F0" stroke-width="0.5" stroke-opacity="0.9"/>
<line x1="354.4" y1="445" x2="471.4" y2="470.7" stroke="#F03838" stroke-width="0.5" stroke-opacity="0.9"/>
<line x1="416.8" y1="494.8" x2="382" y2="488" stroke="#F03838" stroke-width="0.5" stroke-opacity="0.9"/>
<line x1="480.9" y1="417.4" x2="431.3" y2="436.8" stroke="#F03838" stroke-width="0.5" stroke-opacity="0.9"/>
<line x1="469.8" y1="405.4" x2="452" y2="488.8" stroke="#3838F0" stroke-width="0.5" stroke-opacity="0.9"/>
<line x1="395" y1="377.2" x2="452" y2="488.8" stroke="#3838F0" stroke-width="0.5" stroke-opacity="0.9"/>
<line x1="482.9" y1="440.7" x2="471.4" y2="470.7" stroke="#F03838" stroke-width="0.5" stroke-opacity="0.9"/>
<line x1="366.5" y1="392.2" x2="353.1" y2="424.5" stroke="#3838F0" stroke-width="0.5" stroke-opacity="0.9"/>
<line x1="471.4" y1="470.7" x2="382" y2="488" stroke="#F03838" stroke-width="0.5" stroke-opacity="0.9"/>
<line x1="480.9" y1="417.4" x2="416.8" y2="494.8" stroke="#3838F0" stroke-width="0.5" stroke-opacity="0.9"/>
<line x1="469.8" y1="405.4" x2="431.3" y2="436.8" stroke="#F03838" stroke-width="0.5" stroke-opacity="0.9"/>
<line x1="366.5" y1="392.2" x2="358.7" y2="416.5" stroke="#F03838" stroke-width="0.5" stroke-opacity="0.9"/>
<line x1="471.4" y1="470.7" x2="452" y2="488.8" stroke="#F03838" stroke-width="0.5" stroke-opacity="0.9"/>
<line x1="366.5" y1="392.2" x2="382" y2="488" stroke="#3838F0" stroke-width="0.5" stroke-opacity="0.9"/>
<line x1="416.8" y1="494.8" x2="423.7" y2="468.6" stroke="#F03838" stroke-width="0.5" stroke-opacity="0.9"/>
<circle cx="395.00" cy="377.20" r="3.0" fill="#E03C2D"/>
<circle cx="431.60" cy="374.40" r="2.5" fill="#E03C2D"/>
<circle cx="466.20" cy="390.20" r="2.5" fill="#E03C2D"/>
<circle cx="469.80" cy="405.40" r="3.3" fill="#E03C2D"/>
<circle cx="480.90" cy="417.40" r="3.2" fill="#E03C2D"/>
<circle cx="482.90" cy="440.70" r="3.5" fill="#E03C2D"/>
<circle cx="471.40" cy="470.70" r="3.0" fill="#E03C2D"/>
<circle cx="452.00" cy="488.80" r="3.5" fill="#E03C2D"/>
<circle cx="416.80" cy="494.80" r="3.3" fill="#E03C2D"/>
<circle cx="382.00" cy="488.00" r="3.3" fill="#E03C2D"/>
<circle cx="358.80" cy="464.80" r="3.0" fill="#E03C2D"/>
<polygon points="354.40,441.39 350.90,447.41 357.90,447.41" fill="#3BAFC8"/>
<circle cx="353.10" cy="424.50" r="2.7" fill="#E03C2D"/>
<circle cx="358.70" cy="416.50" r="2.7" fill="#E03C2D"/>
<polygon points="366.50,386.78 361.25,395.81 371.75,395.81" fill="#3BAFC8"/>
<polygon points="391.20,423.63 387.45,430.08 394.95,430.08" fill="#3BAFC8"/>
<circle cx="431.30" cy="436.80" r="2.5" fill="#E03C2D"/>
<circle cx="423.70" cy="468.60" r="2.0" fill="#E03C2D"/>
<rect x="422.9" y="362.9" width="30.70" height="7.60" fill="#ffffff" fill-opacity="0.95" stroke="#808080" stroke-width="0.45" rx="0.5"/>
<text x="438.25" y="368.60" font-size="6.5" font-family="Liberation Sans, Arial, sans-serif" text-anchor="middle" fill="#111" stroke="#111" stroke-width="0.1">Riboflavin</text>
<rect x="412.7" y="385.9" width="49.70" height="7.70" fill="#ffffff" fill-opacity="0.95" stroke="#808080" stroke-width="0.45" rx="0.5"/>
<text x="437.55" y="391.65" font-size="6.5" font-family="Liberation Sans, Arial, sans-serif" text-anchor="middle" fill="#111" stroke="#111" stroke-width="0.1">Pantothenic Acid</text>
<rect x="398.2" y="403" width="66.10" height="7.30" fill="#ffffff" fill-opacity="0.95" stroke="#808080" stroke-width="0.45" rx="0.5"/>
<text x="431.25" y="408.55" font-size="6.5" font-family="Liberation Sans, Arial, sans-serif" text-anchor="middle" fill="#111" stroke="#111" stroke-width="0.1">Riboflavin (Vitamin B2)</text>
<rect x="431.3" y="421.2" width="53.20" height="7.50" fill="#ffffff" fill-opacity="0.95" stroke="#808080" stroke-width="0.45" rx="0.5"/>
<text x="457.90" y="426.85" font-size="6.5" font-family="Liberation Sans, Arial, sans-serif" text-anchor="middle" fill="#111" stroke="#111" stroke-width="0.1">PC(14:1(9Z)/20:0)</text>
<rect x="446.2" y="447" width="50.70" height="7.60" fill="#ffffff" fill-opacity="0.95" stroke="#808080" stroke-width="0.45" rx="0.5"/>
<text x="471.55" y="452.70" font-size="6.5" font-family="Liberation Sans, Arial, sans-serif" text-anchor="middle" fill="#111" stroke="#111" stroke-width="0.1">LysoPC(18:0/0:0)</text>
<rect x="352.5" y="452.9" width="58.30" height="7.50" fill="#ffffff" fill-opacity="0.95" stroke="#808080" stroke-width="0.45" rx="0.5"/>
<text x="381.65" y="458.55" font-size="6.5" font-family="Liberation Sans, Arial, sans-serif" text-anchor="middle" fill="#111" stroke="#111" stroke-width="0.1">PA(PGF1alpha/2:0)</text>
<rect x="447.8" y="474.3" width="29.10" height="7.40" fill="#ffffff" fill-opacity="0.95" stroke="#808080" stroke-width="0.45" rx="0.5"/>
<text x="462.35" y="479.90" font-size="6.5" font-family="Liberation Sans, Arial, sans-serif" text-anchor="middle" fill="#111" stroke="#111" stroke-width="0.1">2-LysoPC</text>
<rect x="439.9" y="493" width="37.50" height="7.60" fill="#ffffff" fill-opacity="0.95" stroke="#808080" stroke-width="0.45" rx="0.5"/>
<text x="458.65" y="498.70" font-size="6.5" font-family="Liberation Sans, Arial, sans-serif" text-anchor="middle" fill="#111" stroke="#111" stroke-width="0.1">PC(18:0/0:0)</text>
<text x="356.50" y="392.10" font-size="6.4" font-family="Liberation Sans, Arial, sans-serif" text-anchor="middle" fill="#111" stroke="#111" stroke-width="0.1">Arrb1</text>
<text x="381.50" y="428.70" font-size="6.4" font-family="Liberation Sans, Arial, sans-serif" text-anchor="middle" fill="#111" stroke="#111" stroke-width="0.1">Kdr</text>
<text x="341.30" y="441.80" font-size="6.4" font-family="Liberation Sans, Arial, sans-serif" text-anchor="middle" fill="#111" stroke="#111" stroke-width="0.1">Pla2g4c</text>
<text x="501.20" y="371.00" font-size="13.2" font-family="Liberation Serif, Times New Roman, serif" text-anchor="start" font-weight="bold" fill="#000" >L</text>
<line x1="595.9" y1="491.3" x2="644.5" y2="441.1" stroke="#3838F0" stroke-width="0.5" stroke-opacity="0.9"/>
<line x1="646" y1="422.6" x2="644.5" y2="441.1" stroke="#F03838" stroke-width="0.5" stroke-opacity="0.9"/>
<line x1="566.7" y1="374.4" x2="644.5" y2="441.1" stroke="#3838F0" stroke-width="0.5" stroke-opacity="0.9"/>
<line x1="566.7" y1="374.4" x2="626.4" y2="478.5" stroke="#F03838" stroke-width="0.5" stroke-opacity="0.9"/>
<line x1="644.5" y1="441.1" x2="522.2" y2="449.4" stroke="#F03838" stroke-width="0.5" stroke-opacity="0.9"/>
<line x1="571.4" y1="493.2" x2="640" y2="399.5" stroke="#3838F0" stroke-width="0.5" stroke-opacity="0.9"/>
<line x1="595.6" y1="368.5" x2="571.4" y2="493.2" stroke="#F03838" stroke-width="0.5" stroke-opacity="0.9"/>
<line x1="528.1" y1="399.9" x2="536.3" y2="385.7" stroke="#F03838" stroke-width="0.5" stroke-opacity="0.9"/>
<line x1="626.4" y1="478.5" x2="595.9" y2="491.3" stroke="#F03838" stroke-width="0.5" stroke-opacity="0.9"/>
<line x1="566.7" y1="374.4" x2="538.3" y2="475.9" stroke="#3838F0" stroke-width="0.5" stroke-opacity="0.9"/>
<line x1="566.7" y1="374.4" x2="550.1" y2="372.4" stroke="#F03838" stroke-width="0.5" stroke-opacity="0.9"/>
<line x1="640.4" y1="463.2" x2="522.2" y2="449.4" stroke="#3838F0" stroke-width="0.5" stroke-opacity="0.9"/>
<line x1="536.3" y1="385.7" x2="595.9" y2="491.3" stroke="#F03838" stroke-width="0.5" stroke-opacity="0.9"/>
<line x1="614.7" y1="376.8" x2="646" y2="422.6" stroke="#F03838" stroke-width="0.5" stroke-opacity="0.9"/>
<line x1="595.6" y1="368.5" x2="522.2" y2="449.4" stroke="#3838F0" stroke-width="0.5" stroke-opacity="0.9"/>
<line x1="536.3" y1="385.7" x2="538.3" y2="475.9" stroke="#3838F0" stroke-width="0.5" stroke-opacity="0.9"/>
<line x1="640.4" y1="463.2" x2="644.5" y2="441.1" stroke="#F03838" stroke-width="0.5" stroke-opacity="0.9"/>
<line x1="571.4" y1="493.2" x2="646" y2="422.6" stroke="#3838F0" stroke-width="0.5" stroke-opacity="0.9"/>
<line x1="640.4" y1="463.2" x2="554.1" y2="484.8" stroke="#3838F0" stroke-width="0.5" stroke-opacity="0.9"/>
<line x1="640.4" y1="463.2" x2="646" y2="422.6" stroke="#3838F0" stroke-width="0.5" stroke-opacity="0.9"/>
<line x1="614.7" y1="376.8" x2="644.5" y2="441.1" stroke="#F03838" stroke-width="0.5" stroke-opacity="0.9"/>
<line x1="595.6" y1="368.5" x2="538.3" y2="475.9" stroke="#3838F0" stroke-width="0.5" stroke-opacity="0.9"/>
<line x1="640" y1="399.5" x2="644.5" y2="441.1" stroke="#F03838" stroke-width="0.5" stroke-opacity="0.9"/>
<line x1="550.1" y1="372.4" x2="536.3" y2="385.7" stroke="#F03838" stroke-width="0.5" stroke-opacity="0.9"/>
<line x1="644.5" y1="441.1" x2="538.3" y2="475.9" stroke="#F03838" stroke-width="0.5" stroke-opacity="0.9"/>
<line x1="640" y1="399.5" x2="646" y2="422.6" stroke="#F03838" stroke-width="0.5" stroke-opacity="0.9"/>
<line x1="614.7" y1="376.8" x2="522.2" y2="449.4" stroke="#F03838" stroke-width="0.5" stroke-opacity="0.9"/>
<line x1="595.6" y1="368.5" x2="640" y2="399.5" stroke="#3838F0" stroke-width="0.5" stroke-opacity="0.9"/>
<line x1="528.1" y1="399.9" x2="614.7" y2="376.8" stroke="#F03838" stroke-width="0.5" stroke-opacity="0.9"/>
<line x1="536.3" y1="385.7" x2="614.7" y2="376.8" stroke="#F03838" stroke-width="0.5" stroke-opacity="0.9"/>
<line x1="640.4" y1="463.2" x2="538.3" y2="475.9" stroke="#3838F0" stroke-width="0.5" stroke-opacity="0.9"/>
<line x1="538.3" y1="475.9" x2="522.2" y2="449.4" stroke="#F03838" stroke-width="0.5" stroke-opacity="0.9"/>
<line x1="538.3" y1="475.9" x2="520.5" y2="416.5" stroke="#F03838" stroke-width="0.5" stroke-opacity="0.9"/>
<line x1="550.1" y1="372.4" x2="640" y2="399.5" stroke="#3838F0" stroke-width="0.5" stroke-opacity="0.9"/>
<line x1="640.4" y1="463.2" x2="640" y2="399.5" stroke="#3838F0" stroke-width="0.5" stroke-opacity="0.9"/>
<line x1="566.7" y1="374.4" x2="640" y2="399.5" stroke="#3838F0" stroke-width="0.5" stroke-opacity="0.9"/>
<line x1="595.9" y1="491.3" x2="538.3" y2="475.9" stroke="#3838F0" stroke-width="0.5" stroke-opacity="0.9"/>
<line x1="640.4" y1="463.2" x2="595.6" y2="368.5" stroke="#F03838" stroke-width="0.5" stroke-opacity="0.9"/>
<line x1="536.3" y1="385.7" x2="626.4" y2="478.5" stroke="#F03838" stroke-width="0.5" stroke-opacity="0.9"/>
<line x1="550.1" y1="372.4" x2="626.4" y2="478.5" stroke="#F03838" stroke-width="0.5" stroke-opacity="0.9"/>
<line x1="595.6" y1="368.5" x2="595.9" y2="491.3" stroke="#F03838" stroke-width="0.5" stroke-opacity="0.9"/>
<line x1="566.7" y1="374.4" x2="595.9" y2="491.3" stroke="#F03838" stroke-width="0.5" stroke-opacity="0.9"/>
<line x1="571.4" y1="493.2" x2="522.2" y2="449.4" stroke="#3838F0" stroke-width="0.5" stroke-opacity="0.9"/>
<line x1="626.4" y1="478.5" x2="571.4" y2="493.2" stroke="#F03838" stroke-width="0.5" stroke-opacity="0.9"/>
<line x1="626.4" y1="478.5" x2="640" y2="399.5" stroke="#3838F0" stroke-width="0.5" stroke-opacity="0.9"/>
<line x1="566.7" y1="374.4" x2="595.6" y2="368.5" stroke="#F03838" stroke-width="0.5" stroke-opacity="0.9"/>
<line x1="614.7" y1="376.8" x2="640" y2="399.5" stroke="#F03838" stroke-width="0.5" stroke-opacity="0.9"/>
<line x1="595.6" y1="368.5" x2="644.5" y2="441.1" stroke="#3838F0" stroke-width="0.5" stroke-opacity="0.9"/>
<line x1="538.3" y1="475.9" x2="554.1" y2="484.8" stroke="#F03838" stroke-width="0.5" stroke-opacity="0.9"/>
<line x1="646" y1="422.6" x2="520.5" y2="416.5" stroke="#F03838" stroke-width="0.5" stroke-opacity="0.9"/>
<line x1="640" y1="399.5" x2="522.2" y2="449.4" stroke="#F03838" stroke-width="0.5" stroke-opacity="0.9"/>
<line x1="536.3" y1="385.7" x2="646" y2="422.6" stroke="#F03838" stroke-width="0.5" stroke-opacity="0.9"/>
<line x1="646" y1="422.6" x2="522.2" y2="449.4" stroke="#F03838" stroke-width="0.5" stroke-opacity="0.9"/>
<line x1="595.9" y1="491.3" x2="571.4" y2="493.2" stroke="#F03838" stroke-width="0.5" stroke-opacity="0.9"/>
<line x1="595.9" y1="491.3" x2="522.2" y2="449.4" stroke="#3838F0" stroke-width="0.5" stroke-opacity="0.9"/>
<line x1="566.7" y1="374.4" x2="520.5" y2="416.5" stroke="#3838F0" stroke-width="0.5" stroke-opacity="0.9"/>
<line x1="522.2" y1="449.4" x2="528.1" y2="399.9" stroke="#F03838" stroke-width="0.5" stroke-opacity="0.9"/>
<line x1="595.6" y1="368.5" x2="626.4" y2="478.5" stroke="#F03838" stroke-width="0.5" stroke-opacity="0.9"/>
<line x1="614.7" y1="376.8" x2="520.5" y2="416.5" stroke="#F03838" stroke-width="0.5" stroke-opacity="0.9"/>
<line x1="528.1" y1="399.9" x2="640" y2="399.5" stroke="#F03838" stroke-width="0.5" stroke-opacity="0.9"/>
<line x1="595.6" y1="368.5" x2="536.3" y2="385.7" stroke="#F03838" stroke-width="0.5" stroke-opacity="0.9"/>
<line x1="550.1" y1="372.4" x2="595.9" y2="491.3" stroke="#F03838" stroke-width="0.5" stroke-opacity="0.9"/>
<line x1="595.9" y1="491.3" x2="640" y2="399.5" stroke="#3838F0" stroke-width="0.5" stroke-opacity="0.9"/>
<line x1="595.6" y1="368.5" x2="550.1" y2="372.4" stroke="#F03838" stroke-width="0.5" stroke-opacity="0.9"/>
<line x1="626.4" y1="478.5" x2="538.3" y2="475.9" stroke="#3838F0" stroke-width="0.5" stroke-opacity="0.9"/>
<line x1="528.1" y1="399.9" x2="646" y2="422.6" stroke="#F03838" stroke-width="0.5" stroke-opacity="0.9"/>
<line x1="626.4" y1="478.5" x2="522.2" y2="449.4" stroke="#3838F0" stroke-width="0.5" stroke-opacity="0.9"/>
<line x1="550.1" y1="372.4" x2="522.2" y2="449.4" stroke="#3838F0" stroke-width="0.5" stroke-opacity="0.9"/>
<line x1="595.6" y1="368.5" x2="520.5" y2="416.5" stroke="#3838F0" stroke-width="0.5" stroke-opacity="0.9"/>
<line x1="566.7" y1="374.4" x2="522.2" y2="449.4" stroke="#3838F0" stroke-width="0.5" stroke-opacity="0.9"/>
<line x1="571.4" y1="493.2" x2="644.5" y2="441.1" stroke="#3838F0" stroke-width="0.5" stroke-opacity="0.9"/>
<line x1="640.4" y1="463.2" x2="571.4" y2="493.2" stroke="#3838F0" stroke-width="0.5" stroke-opacity="0.9"/>
<line x1="626.4" y1="478.5" x2="520.5" y2="416.5" stroke="#3838F0" stroke-width="0.5" stroke-opacity="0.9"/>
<line x1="520.5" y1="416.5" x2="528.1" y2="399.9" stroke="#F03838" stroke-width="0.5" stroke-opacity="0.9"/>
<line x1="640.4" y1="463.2" x2="626.4" y2="478.5" stroke="#F03838" stroke-width="0.5" stroke-opacity="0.9"/>
<line x1="522.2" y1="449.4" x2="520.5" y2="416.5" stroke="#F03838" stroke-width="0.5" stroke-opacity="0.9"/>
<line x1="640.4" y1="463.2" x2="550.1" y2="372.4" stroke="#F03838" stroke-width="0.5" stroke-opacity="0.9"/>
<line x1="640" y1="399.5" x2="520.5" y2="416.5" stroke="#F03838" stroke-width="0.5" stroke-opacity="0.9"/>
<line x1="566.7" y1="374.4" x2="614.7" y2="376.8" stroke="#3838F0" stroke-width="0.5" stroke-opacity="0.9"/>
<line x1="566.7" y1="374.4" x2="536.3" y2="385.7" stroke="#F03838" stroke-width="0.5" stroke-opacity="0.9"/>
<line x1="522.2" y1="449.4" x2="554.1" y2="484.8" stroke="#F03838" stroke-width="0.5" stroke-opacity="0.9"/>
<polygon points="566.70,370.53 562.95,376.98 570.45,376.98" fill="#3BAFC8"/>
<circle cx="595.60" cy="368.50" r="2.8" fill="#E03C2D"/>
<circle cx="614.70" cy="376.80" r="2.8" fill="#E03C2D"/>
<circle cx="640.00" cy="399.50" r="3.0" fill="#E03C2D"/>
<circle cx="646.00" cy="422.60" r="2.3" fill="#E03C2D"/>
<circle cx="644.50" cy="441.10" r="2.8" fill="#E03C2D"/>
<polygon points="640.40,459.59 636.90,465.61 643.90,465.61" fill="#3BAFC8"/>
<circle cx="626.40" cy="478.50" r="2.8" fill="#E03C2D"/>
<circle cx="595.90" cy="491.30" r="2.5" fill="#E03C2D"/>
<circle cx="571.40" cy="493.20" r="2.8" fill="#E03C2D"/>
<circle cx="554.10" cy="484.80" r="1.8" fill="#E03C2D"/>
<circle cx="538.30" cy="475.90" r="3.2" fill="#E03C2D"/>
<circle cx="522.20" cy="449.40" r="3.0" fill="#E03C2D"/>
<circle cx="520.50" cy="416.50" r="3.0" fill="#E03C2D"/>
<circle cx="528.10" cy="399.90" r="2.3" fill="#E03C2D"/>
<circle cx="536.30" cy="385.70" r="2.3" fill="#E03C2D"/>
<circle cx="550.10" cy="372.40" r="2.3" fill="#E03C2D"/>
<rect x="578.5" y="356.9" width="67.60" height="7.90" fill="#ffffff" fill-opacity="0.95" stroke="#808080" stroke-width="0.45" rx="0.5"/>
<text x="612.30" y="362.75" font-size="6.5" font-family="Liberation Sans, Arial, sans-serif" text-anchor="middle" fill="#111" stroke="#111" stroke-width="0.1">Riboflavin (Vitamin B2)</text>
<rect x="516.7" y="369.7" width="30.30" height="7.40" fill="#ffffff" fill-opacity="0.95" stroke="#808080" stroke-width="0.45" rx="0.5"/>
<text x="531.85" y="375.30" font-size="6.5" font-family="Liberation Sans, Arial, sans-serif" text-anchor="middle" fill="#111" stroke="#111" stroke-width="0.1">Riboflavin</text>
<rect x="585.1" y="395.8" width="51.70" height="7.70" fill="#ffffff" fill-opacity="0.95" stroke="#808080" stroke-width="0.45" rx="0.5"/>
<text x="610.95" y="401.55" font-size="6.5" font-family="Liberation Sans, Arial, sans-serif" text-anchor="middle" fill="#111" stroke="#111" stroke-width="0.1">LysoPC(18:0/0:0)</text>
<rect x="499.3" y="420.1" width="56.30" height="7.40" fill="#ffffff" fill-opacity="0.95" stroke="#808080" stroke-width="0.45" rx="0.5"/>
<text x="527.45" y="425.70" font-size="6.5" font-family="Liberation Sans, Arial, sans-serif" text-anchor="middle" fill="#111" stroke="#111" stroke-width="0.1">PA(PGF1alpha/2:0)</text>
<rect x="610.7" y="436.2" width="30.60" height="7.70" fill="#ffffff" fill-opacity="0.95" stroke="#808080" stroke-width="0.45" rx="0.5"/>
<text x="626.00" y="441.95" font-size="6.5" font-family="Liberation Sans, Arial, sans-serif" text-anchor="middle" fill="#111" stroke="#111" stroke-width="0.1">2-LysoPC</text>
<rect x="513.4" y="453.8" width="37.50" height="7.70" fill="#ffffff" fill-opacity="0.95" stroke="#808080" stroke-width="0.45" rx="0.5"/>
<text x="532.15" y="459.55" font-size="6.5" font-family="Liberation Sans, Arial, sans-serif" text-anchor="middle" fill="#111" stroke="#111" stroke-width="0.1">PC(18:0/0:0)</text>
<rect x="618.7" y="482.3" width="53.10" height="7.70" fill="#ffffff" fill-opacity="0.95" stroke="#808080" stroke-width="0.45" rx="0.5"/>
<text x="645.25" y="488.05" font-size="6.5" font-family="Liberation Sans, Arial, sans-serif" text-anchor="middle" fill="#111" stroke="#111" stroke-width="0.1">PC(14:1(9Z)/20:0)</text>
<rect x="581.4" y="494.1" width="50.10" height="7.70" fill="#ffffff" fill-opacity="0.95" stroke="#808080" stroke-width="0.45" rx="0.5"/>
<text x="606.45" y="499.85" font-size="6.5" font-family="Liberation Sans, Arial, sans-serif" text-anchor="middle" fill="#111" stroke="#111" stroke-width="0.1">Pantothenic Acid</text>
<text x="565.40" y="367.30" font-size="6.4" font-family="Liberation Sans, Arial, sans-serif" text-anchor="middle" fill="#111" stroke="#111" stroke-width="0.1">Arrb1</text>
<text x="646.50" y="473.10" font-size="6.4" font-family="Liberation Sans, Arial, sans-serif" text-anchor="middle" fill="#111" stroke="#111" stroke-width="0.1">Hhip</text>
<circle cx="653.40" cy="371.40" r="2.7" fill="#E03C2D"/>
<text x="659.00" y="373.30" font-size="5.1" font-family="Liberation Sans, Arial, sans-serif" text-anchor="start" font-weight="bold" fill="#000" stroke="#000" stroke-width="0.18">DEMs</text>
<polygon points="653.40,376.60 650.60,381.60 656.20,381.60" fill="#3BAFC8"/>
<text x="659.00" y="381.20" font-size="5.1" font-family="Liberation Sans, Arial, sans-serif" text-anchor="start" font-weight="bold" fill="#000" stroke="#000" stroke-width="0.18">DEGs</text>
<text x="651.00" y="398.00" font-size="5.1" font-family="Liberation Sans, Arial, sans-serif" text-anchor="start" font-weight="bold" fill="#000" stroke="#000" stroke-width="0.18">Correlation</text>
<line x1="651" y1="403.5" x2="656.9" y2="403.5" stroke="#1a1aff" stroke-width="0.9"/>
<text x="658.00" y="405.10" font-size="4.9" font-family="Liberation Sans, Arial, sans-serif" text-anchor="start" font-weight="bold" fill="#000" stroke="#000" stroke-width="0.18">negative</text>
<line x1="651" y1="411.5" x2="656.9" y2="411.5" stroke="#ff2020" stroke-width="0.9"/>
<text x="658.00" y="412.70" font-size="4.9" font-family="Liberation Sans, Arial, sans-serif" text-anchor="start" font-weight="bold" fill="#000" stroke="#000" stroke-width="0.18">positive</text>
</svg></body></html>
